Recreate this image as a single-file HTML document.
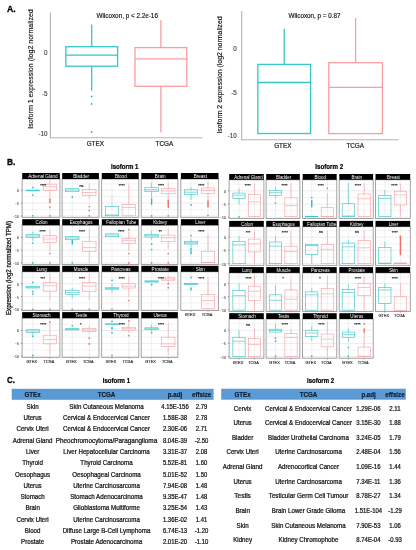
<!DOCTYPE html>
<html><head><meta charset="utf-8"><title>Figure</title>
<style>
html,body{margin:0;padding:0;background:#fff;}
svg{display:block;will-change:transform;}
text{font-family:"Liberation Sans", sans-serif;}
</style></head><body>
<svg width="416" height="550" viewBox="0 0 416 550">
<rect x="0" y="0" width="416" height="550" fill="#fff"/>
<text x="7" y="11.5" font-size="9.4" text-anchor="start" font-weight="bold" textLength="8.8" lengthAdjust="spacingAndGlyphs" stroke="#000" stroke-width="0.3">A.</text>
<line x1="50.4" y1="12.5" x2="50.4" y2="138.2" stroke="#b4b4b4" stroke-width="1.1"/>
<line x1="49.9" y1="137.7" x2="202.5" y2="137.7" stroke="#b4b4b4" stroke-width="1.1"/>
<text x="47.6" y="54.8" font-size="6.3" text-anchor="end" fill="#3a3a3a" stroke="#3a3a3a" stroke-width="0.12">0</text>
<text x="47.6" y="96.2" font-size="6.3" text-anchor="end" fill="#3a3a3a" stroke="#3a3a3a" stroke-width="0.12">-5</text>
<text x="47.6" y="136.2" font-size="6.3" text-anchor="end" fill="#3a3a3a" stroke="#3a3a3a" stroke-width="0.12">-10</text>
<text x="33.4" y="69" font-size="7" text-anchor="middle" fill="#111" textLength="119.5" lengthAdjust="spacingAndGlyphs" transform="rotate(-90 33.4 69)" stroke="#111" stroke-width="0.15">Isoform 1 expression (log2 normalized</text>
<text x="127.2" y="18" font-size="6.35" text-anchor="middle" fill="#111" textLength="61.5" lengthAdjust="spacingAndGlyphs" stroke="#111" stroke-width="0.15">Wilcoxon, p &lt; 2.2e-16</text>
<line x1="91.7" y1="24.4" x2="91.7" y2="46.7" stroke="#36c6c8" stroke-width="1.3"/>
<line x1="91.7" y1="66.2" x2="91.7" y2="90.8" stroke="#36c6c8" stroke-width="1.3"/>
<rect x="65.8" y="46.7" width="51.8" height="19.5" fill="none" stroke="#36c6c8" stroke-width="1.3"/>
<line x1="65.8" y1="55.1" x2="117.6" y2="55.1" stroke="#36c6c8" stroke-width="1.3"/>
<circle cx="91.6" cy="96.5" r="0.9" fill="#22c0c3"/>
<circle cx="91.6" cy="104" r="0.9" fill="#22c0c3"/>
<circle cx="91.6" cy="132" r="0.9" fill="#22c0c3"/>
<line x1="160.9" y1="20" x2="160.9" y2="47.6" stroke="#f99ea0" stroke-width="1.3"/>
<line x1="160.9" y1="86.3" x2="160.9" y2="132.4" stroke="#f99ea0" stroke-width="1.3"/>
<rect x="135" y="47.6" width="51.8" height="38.7" fill="none" stroke="#f99ea0" stroke-width="1.3"/>
<line x1="135" y1="58.8" x2="186.8" y2="58.8" stroke="#f99ea0" stroke-width="1.3"/>
<text x="95.3" y="145.8" font-size="6.4" text-anchor="middle" fill="#222" textLength="17.2" lengthAdjust="spacingAndGlyphs" stroke="#222" stroke-width="0.2">GTEX</text>
<text x="164.4" y="146.2" font-size="6.4" text-anchor="middle" fill="#222" textLength="17.6" lengthAdjust="spacingAndGlyphs" stroke="#222" stroke-width="0.2">TCGA</text>
<line x1="241.7" y1="10.9" x2="241.7" y2="140.2" stroke="#b4b4b4" stroke-width="1.1"/>
<line x1="241.2" y1="139.8" x2="398.5" y2="139.8" stroke="#b4b4b4" stroke-width="1.1"/>
<text x="236.8" y="50.5" font-size="6.3" text-anchor="end" fill="#3a3a3a" stroke="#3a3a3a" stroke-width="0.12">0</text>
<text x="236.8" y="94.7" font-size="6.3" text-anchor="end" fill="#3a3a3a" stroke="#3a3a3a" stroke-width="0.12">-5</text>
<text x="236.8" y="137.8" font-size="6.3" text-anchor="end" fill="#3a3a3a" stroke="#3a3a3a" stroke-width="0.12">-10</text>
<text x="221.6" y="75" font-size="7" text-anchor="middle" fill="#111" textLength="117.2" lengthAdjust="spacingAndGlyphs" transform="rotate(-90 221.6 75)" stroke="#111" stroke-width="0.15">Isoform 2 expression (log2 normalized</text>
<text x="314.5" y="18" font-size="6.35" text-anchor="middle" fill="#111" textLength="52" lengthAdjust="spacingAndGlyphs" stroke="#111" stroke-width="0.15">Wilcoxon, p = 0.87</text>
<line x1="284.2" y1="28.8" x2="284.2" y2="64.4" stroke="#36c6c8" stroke-width="1.3"/>
<rect x="257.8" y="64.4" width="52.8" height="69.1" fill="none" stroke="#36c6c8" stroke-width="1.3"/>
<line x1="257.8" y1="82.5" x2="310.6" y2="82.5" stroke="#36c6c8" stroke-width="1.3"/>
<line x1="355.6" y1="18" x2="355.6" y2="62.7" stroke="#f99ea0" stroke-width="1.3"/>
<rect x="328.8" y="62.7" width="53.6" height="70.9" fill="none" stroke="#f99ea0" stroke-width="1.3"/>
<line x1="328.8" y1="87.3" x2="382.4" y2="87.3" stroke="#f99ea0" stroke-width="1.3"/>
<text x="282.8" y="148" font-size="6.4" text-anchor="middle" fill="#222" textLength="17.2" lengthAdjust="spacingAndGlyphs" stroke="#222" stroke-width="0.2">GTEX</text>
<text x="355.2" y="148" font-size="6.4" text-anchor="middle" fill="#222" textLength="17.6" lengthAdjust="spacingAndGlyphs" stroke="#222" stroke-width="0.2">TCGA</text>
<text x="7" y="164.8" font-size="9.6" text-anchor="start" font-weight="bold" textLength="8.4" lengthAdjust="spacingAndGlyphs" stroke="#000" stroke-width="0.3">B.</text>
<text x="124.7" y="168.5" font-size="6.6" text-anchor="middle" font-weight="bold" textLength="27.4" lengthAdjust="spacingAndGlyphs" stroke="#000" stroke-width="0.22">Isoform 1</text>
<text x="329.2" y="169" font-size="6.6" text-anchor="middle" font-weight="bold" textLength="27.9" lengthAdjust="spacingAndGlyphs" stroke="#000" stroke-width="0.22">Isoform 2</text>
<text x="10.6" y="268" font-size="6.4" text-anchor="middle" fill="#111" textLength="94" lengthAdjust="spacingAndGlyphs" transform="rotate(-90 10.6 268)" stroke="#111" stroke-width="0.25">Expression (log2 normalized TPM)</text>
<line x1="22.2" y1="183.75" x2="59.8" y2="183.75" stroke="#e8e8e8" stroke-width="0.5"/>
<line x1="22.2" y1="196.65" x2="59.8" y2="196.65" stroke="#e8e8e8" stroke-width="0.5"/>
<line x1="22.2" y1="209.55" x2="59.8" y2="209.55" stroke="#e8e8e8" stroke-width="0.5"/>
<line x1="22.2" y1="190.2" x2="59.8" y2="190.2" stroke="#d9d9d9" stroke-width="0.5"/>
<line x1="22.2" y1="203.1" x2="59.8" y2="203.1" stroke="#d9d9d9" stroke-width="0.5"/>
<line x1="22.2" y1="216" x2="59.8" y2="216" stroke="#d9d9d9" stroke-width="0.5"/>
<line x1="32.8" y1="179" x2="32.8" y2="217.3" stroke="#e0e0e0" stroke-width="0.5"/>
<line x1="49.9" y1="179" x2="49.9" y2="217.3" stroke="#e0e0e0" stroke-width="0.5"/>
<rect x="26.1" y="190.1" width="13.4" height="0.8" fill="none" stroke="#36c6c8" stroke-width="0.62"/>
<line x1="26.1" y1="190.5" x2="39.5" y2="190.5" stroke="#36c6c8" stroke-width="0.62"/>
<circle cx="32.8" cy="187.5" r="0.85" fill="#22c0c3"/>
<circle cx="32.8" cy="195" r="0.85" fill="#22c0c3"/>
<circle cx="32.8" cy="215.8" r="0.85" fill="#22c0c3"/>
<line x1="49.9" y1="179.9" x2="49.9" y2="184.2" stroke="#f99ea0" stroke-width="0.62"/>
<line x1="49.9" y1="190.3" x2="49.9" y2="198.6" stroke="#f99ea0" stroke-width="0.62"/>
<rect x="43.2" y="184.2" width="13.4" height="6.1" fill="none" stroke="#f99ea0" stroke-width="0.62"/>
<line x1="43.2" y1="186.6" x2="56.6" y2="186.6" stroke="#f99ea0" stroke-width="0.62"/>
<rect x="49.2" y="198.6" width="1.4" height="4.6" rx="0.7" fill="#f26c64"/>
<circle cx="49.9" cy="207" r="0.85" fill="#f26c64"/>
<circle cx="49.9" cy="215.8" r="0.85" fill="#f26c64"/>
<text x="43.2" y="186.9" font-size="3.9" text-anchor="middle" fill="#333" stroke="#333" stroke-width="0.18">****</text>
<rect x="22.1" y="179" width="37.8" height="38.3" fill="none" stroke="#8c8c8c" stroke-width="0.8"/>
<rect x="22.2" y="173" width="37.6" height="6" fill="#000"/>
<text x="42.9" y="177.9" font-size="4.6" text-anchor="middle" fill="#fff">Adrenal Gland</text>
<line x1="20.9" y1="190.2" x2="22" y2="190.2" stroke="#333" stroke-width="0.5"/>
<text x="18.8" y="192.1" font-size="3.4" text-anchor="end" fill="#444" stroke="#444" stroke-width="0.08">0</text>
<line x1="20.9" y1="203.1" x2="22" y2="203.1" stroke="#333" stroke-width="0.5"/>
<text x="18.8" y="205" font-size="3.4" text-anchor="end" fill="#444" stroke="#444" stroke-width="0.08">−5</text>
<line x1="20.9" y1="216" x2="22" y2="216" stroke="#333" stroke-width="0.5"/>
<text x="18.8" y="217.9" font-size="3.4" text-anchor="end" fill="#444" stroke="#444" stroke-width="0.08">−10</text>
<line x1="62.2" y1="183.75" x2="98.9" y2="183.75" stroke="#e8e8e8" stroke-width="0.5"/>
<line x1="62.2" y1="196.65" x2="98.9" y2="196.65" stroke="#e8e8e8" stroke-width="0.5"/>
<line x1="62.2" y1="209.55" x2="98.9" y2="209.55" stroke="#e8e8e8" stroke-width="0.5"/>
<line x1="62.2" y1="190.2" x2="98.9" y2="190.2" stroke="#d9d9d9" stroke-width="0.5"/>
<line x1="62.2" y1="203.1" x2="98.9" y2="203.1" stroke="#d9d9d9" stroke-width="0.5"/>
<line x1="62.2" y1="216" x2="98.9" y2="216" stroke="#d9d9d9" stroke-width="0.5"/>
<line x1="72.3" y1="179" x2="72.3" y2="217.3" stroke="#e0e0e0" stroke-width="0.5"/>
<line x1="89.3" y1="179" x2="89.3" y2="217.3" stroke="#e0e0e0" stroke-width="0.5"/>
<rect x="65.6" y="188.7" width="13.4" height="3" fill="none" stroke="#36c6c8" stroke-width="0.62"/>
<line x1="65.6" y1="190" x2="79" y2="190" stroke="#36c6c8" stroke-width="0.62"/>
<circle cx="72.3" cy="197.2" r="0.85" fill="#22c0c3"/>
<line x1="89.3" y1="183.8" x2="89.3" y2="189.3" stroke="#f99ea0" stroke-width="0.62"/>
<line x1="89.3" y1="195.6" x2="89.3" y2="198.6" stroke="#f99ea0" stroke-width="0.62"/>
<rect x="82.6" y="189.3" width="13.4" height="6.3" fill="none" stroke="#f99ea0" stroke-width="0.62"/>
<line x1="82.6" y1="192.5" x2="96" y2="192.5" stroke="#f99ea0" stroke-width="0.62"/>
<circle cx="89.3" cy="206.5" r="0.85" fill="#f26c64"/>
<circle cx="89.3" cy="210.4" r="0.85" fill="#f26c64"/>
<circle cx="89.3" cy="215.8" r="0.85" fill="#f26c64"/>
<text x="81.5" y="186.9" font-size="3.8" text-anchor="middle" fill="#222" stroke="#222" stroke-width="0.2">ns</text>
<rect x="62.1" y="179" width="36.9" height="38.3" fill="none" stroke="#8c8c8c" stroke-width="0.8"/>
<rect x="62.2" y="173" width="36.7" height="6" fill="#000"/>
<text x="81.15" y="177.9" font-size="4.6" text-anchor="middle" fill="#fff">Bladder</text>
<line x1="101.8" y1="183.75" x2="138.7" y2="183.75" stroke="#e8e8e8" stroke-width="0.5"/>
<line x1="101.8" y1="196.65" x2="138.7" y2="196.65" stroke="#e8e8e8" stroke-width="0.5"/>
<line x1="101.8" y1="209.55" x2="138.7" y2="209.55" stroke="#e8e8e8" stroke-width="0.5"/>
<line x1="101.8" y1="190.2" x2="138.7" y2="190.2" stroke="#d9d9d9" stroke-width="0.5"/>
<line x1="101.8" y1="203.1" x2="138.7" y2="203.1" stroke="#d9d9d9" stroke-width="0.5"/>
<line x1="101.8" y1="216" x2="138.7" y2="216" stroke="#d9d9d9" stroke-width="0.5"/>
<line x1="112" y1="179" x2="112" y2="217.3" stroke="#e0e0e0" stroke-width="0.5"/>
<line x1="128.8" y1="179" x2="128.8" y2="217.3" stroke="#e0e0e0" stroke-width="0.5"/>
<line x1="112" y1="195" x2="112" y2="206.5" stroke="#36c6c8" stroke-width="0.62" stroke-opacity="0.45"/>
<rect x="105.3" y="206.5" width="13.4" height="9.3" fill="none" stroke="#36c6c8" stroke-width="0.62"/>
<line x1="105.3" y1="215" x2="118.7" y2="215" stroke="#36c6c8" stroke-width="0.62"/>
<line x1="128.8" y1="184.8" x2="128.8" y2="204.5" stroke="#f99ea0" stroke-width="0.62"/>
<rect x="122.1" y="204.5" width="13.4" height="11.3" fill="none" stroke="#f99ea0" stroke-width="0.62"/>
<line x1="122.1" y1="207.5" x2="135.5" y2="207.5" stroke="#f99ea0" stroke-width="0.62"/>
<text x="121.7" y="186.9" font-size="3.9" text-anchor="middle" fill="#333" stroke="#333" stroke-width="0.18">****</text>
<rect x="101.7" y="179" width="37.1" height="38.3" fill="none" stroke="#8c8c8c" stroke-width="0.8"/>
<rect x="101.8" y="173" width="36.9" height="6" fill="#000"/>
<text x="120.85" y="177.9" font-size="4.6" text-anchor="middle" fill="#fff">Blood</text>
<line x1="141.3" y1="183.75" x2="177.8" y2="183.75" stroke="#e8e8e8" stroke-width="0.5"/>
<line x1="141.3" y1="196.65" x2="177.8" y2="196.65" stroke="#e8e8e8" stroke-width="0.5"/>
<line x1="141.3" y1="209.55" x2="177.8" y2="209.55" stroke="#e8e8e8" stroke-width="0.5"/>
<line x1="141.3" y1="190.2" x2="177.8" y2="190.2" stroke="#d9d9d9" stroke-width="0.5"/>
<line x1="141.3" y1="203.1" x2="177.8" y2="203.1" stroke="#d9d9d9" stroke-width="0.5"/>
<line x1="141.3" y1="216" x2="177.8" y2="216" stroke="#d9d9d9" stroke-width="0.5"/>
<line x1="151.6" y1="179" x2="151.6" y2="217.3" stroke="#e0e0e0" stroke-width="0.5"/>
<line x1="168.25" y1="179" x2="168.25" y2="217.3" stroke="#e0e0e0" stroke-width="0.5"/>
<line x1="151.6" y1="182.8" x2="151.6" y2="187.4" stroke="#36c6c8" stroke-width="0.62"/>
<line x1="151.6" y1="191.7" x2="151.6" y2="197.6" stroke="#36c6c8" stroke-width="0.62"/>
<rect x="144.9" y="187.4" width="13.4" height="4.3" fill="none" stroke="#36c6c8" stroke-width="0.62"/>
<line x1="144.9" y1="189.7" x2="158.3" y2="189.7" stroke="#36c6c8" stroke-width="0.62"/>
<rect x="150.9" y="198" width="1.4" height="7" rx="0.7" fill="#22c0c3"/>
<circle cx="151.6" cy="215.8" r="0.85" fill="#22c0c3"/>
<line x1="168.25" y1="182.8" x2="168.25" y2="188.7" stroke="#f99ea0" stroke-width="0.62"/>
<line x1="168.25" y1="193.7" x2="168.25" y2="199.6" stroke="#f99ea0" stroke-width="0.62"/>
<rect x="161.55" y="188.7" width="13.4" height="5" fill="none" stroke="#f99ea0" stroke-width="0.62"/>
<line x1="161.55" y1="191" x2="174.95" y2="191" stroke="#f99ea0" stroke-width="0.62"/>
<rect x="167.55" y="199.6" width="1.4" height="8.4" rx="0.7" fill="#f26c64"/>
<circle cx="168.25" cy="215.8" r="0.85" fill="#f26c64"/>
<text x="161.1" y="186.9" font-size="3.9" text-anchor="middle" fill="#333" stroke="#333" stroke-width="0.18">****</text>
<rect x="141.2" y="179" width="36.7" height="38.3" fill="none" stroke="#8c8c8c" stroke-width="0.8"/>
<rect x="141.3" y="173" width="36.5" height="6" fill="#000"/>
<text x="160.15" y="177.9" font-size="4.6" text-anchor="middle" fill="#fff">Brain</text>
<line x1="180.9" y1="183.75" x2="218.5" y2="183.75" stroke="#e8e8e8" stroke-width="0.5"/>
<line x1="180.9" y1="196.65" x2="218.5" y2="196.65" stroke="#e8e8e8" stroke-width="0.5"/>
<line x1="180.9" y1="209.55" x2="218.5" y2="209.55" stroke="#e8e8e8" stroke-width="0.5"/>
<line x1="180.9" y1="190.2" x2="218.5" y2="190.2" stroke="#d9d9d9" stroke-width="0.5"/>
<line x1="180.9" y1="203.1" x2="218.5" y2="203.1" stroke="#d9d9d9" stroke-width="0.5"/>
<line x1="180.9" y1="216" x2="218.5" y2="216" stroke="#d9d9d9" stroke-width="0.5"/>
<line x1="191" y1="179" x2="191" y2="217.3" stroke="#e0e0e0" stroke-width="0.5"/>
<line x1="208" y1="179" x2="208" y2="217.3" stroke="#e0e0e0" stroke-width="0.5"/>
<line x1="191" y1="186.8" x2="191" y2="189.8" stroke="#36c6c8" stroke-width="0.62"/>
<line x1="191" y1="194.6" x2="191" y2="200" stroke="#36c6c8" stroke-width="0.62"/>
<rect x="184.3" y="189.8" width="13.4" height="4.8" fill="none" stroke="#36c6c8" stroke-width="0.62"/>
<line x1="184.3" y1="192.2" x2="197.7" y2="192.2" stroke="#36c6c8" stroke-width="0.62"/>
<circle cx="191" cy="204.9" r="0.85" fill="#22c0c3"/>
<line x1="208" y1="180.8" x2="208" y2="188" stroke="#f99ea0" stroke-width="0.62"/>
<line x1="208" y1="193.4" x2="208" y2="200" stroke="#f99ea0" stroke-width="0.62"/>
<rect x="201.3" y="188" width="13.4" height="5.4" fill="none" stroke="#f99ea0" stroke-width="0.62"/>
<line x1="201.3" y1="190.4" x2="214.7" y2="190.4" stroke="#f99ea0" stroke-width="0.62"/>
<rect x="207.3" y="200" width="1.4" height="7.6" rx="0.7" fill="#f26c64"/>
<circle cx="208" cy="215.4" r="0.85" fill="#f26c64"/>
<text x="201.2" y="186.9" font-size="3.9" text-anchor="middle" fill="#333" stroke="#333" stroke-width="0.18">****</text>
<rect x="180.8" y="179" width="37.8" height="38.3" fill="none" stroke="#8c8c8c" stroke-width="0.8"/>
<rect x="180.9" y="173" width="37.6" height="6" fill="#000"/>
<text x="200.3" y="177.9" font-size="4.6" text-anchor="middle" fill="#fff">Breast</text>
<line x1="22.2" y1="230.75" x2="59.8" y2="230.75" stroke="#e8e8e8" stroke-width="0.5"/>
<line x1="22.2" y1="243.65" x2="59.8" y2="243.65" stroke="#e8e8e8" stroke-width="0.5"/>
<line x1="22.2" y1="256.55" x2="59.8" y2="256.55" stroke="#e8e8e8" stroke-width="0.5"/>
<line x1="22.2" y1="237.2" x2="59.8" y2="237.2" stroke="#d9d9d9" stroke-width="0.5"/>
<line x1="22.2" y1="250.1" x2="59.8" y2="250.1" stroke="#d9d9d9" stroke-width="0.5"/>
<line x1="22.2" y1="263" x2="59.8" y2="263" stroke="#d9d9d9" stroke-width="0.5"/>
<line x1="32.8" y1="225.2" x2="32.8" y2="264.4" stroke="#e0e0e0" stroke-width="0.5"/>
<line x1="49.9" y1="225.2" x2="49.9" y2="264.4" stroke="#e0e0e0" stroke-width="0.5"/>
<line x1="32.8" y1="231.8" x2="32.8" y2="234.4" stroke="#36c6c8" stroke-width="0.62"/>
<line x1="32.8" y1="237.3" x2="32.8" y2="240.7" stroke="#36c6c8" stroke-width="0.62"/>
<rect x="26.1" y="234.4" width="13.4" height="2.9" fill="none" stroke="#36c6c8" stroke-width="0.62"/>
<line x1="26.1" y1="236" x2="39.5" y2="236" stroke="#36c6c8" stroke-width="0.62"/>
<circle cx="32.8" cy="243" r="0.85" fill="#22c0c3"/>
<circle cx="32.8" cy="262.8" r="0.85" fill="#22c0c3"/>
<line x1="49.9" y1="229.2" x2="49.9" y2="235.7" stroke="#f99ea0" stroke-width="0.62"/>
<line x1="49.9" y1="242.6" x2="49.9" y2="251.5" stroke="#f99ea0" stroke-width="0.62"/>
<rect x="43.2" y="235.7" width="13.4" height="6.9" fill="none" stroke="#f99ea0" stroke-width="0.62"/>
<line x1="43.2" y1="239" x2="56.6" y2="239" stroke="#f99ea0" stroke-width="0.62"/>
<circle cx="49.9" cy="253.5" r="0.85" fill="#f26c64"/>
<circle cx="49.9" cy="262.8" r="0.85" fill="#f26c64"/>
<text x="42.6" y="233.1" font-size="3.9" text-anchor="middle" fill="#333" stroke="#333" stroke-width="0.18">****</text>
<rect x="22.1" y="225.2" width="37.8" height="39.2" fill="none" stroke="#8c8c8c" stroke-width="0.8"/>
<rect x="22.2" y="219.2" width="37.6" height="6" fill="#000"/>
<text x="41.6" y="224.1" font-size="4.6" text-anchor="middle" fill="#fff">Colon</text>
<line x1="20.9" y1="237.2" x2="22" y2="237.2" stroke="#333" stroke-width="0.5"/>
<text x="18.8" y="239.1" font-size="3.4" text-anchor="end" fill="#444" stroke="#444" stroke-width="0.08">0</text>
<line x1="20.9" y1="250.1" x2="22" y2="250.1" stroke="#333" stroke-width="0.5"/>
<text x="18.8" y="252" font-size="3.4" text-anchor="end" fill="#444" stroke="#444" stroke-width="0.08">−5</text>
<line x1="20.9" y1="263" x2="22" y2="263" stroke="#333" stroke-width="0.5"/>
<text x="18.8" y="264.9" font-size="3.4" text-anchor="end" fill="#444" stroke="#444" stroke-width="0.08">−10</text>
<line x1="62.2" y1="230.75" x2="98.9" y2="230.75" stroke="#e8e8e8" stroke-width="0.5"/>
<line x1="62.2" y1="243.65" x2="98.9" y2="243.65" stroke="#e8e8e8" stroke-width="0.5"/>
<line x1="62.2" y1="256.55" x2="98.9" y2="256.55" stroke="#e8e8e8" stroke-width="0.5"/>
<line x1="62.2" y1="237.2" x2="98.9" y2="237.2" stroke="#d9d9d9" stroke-width="0.5"/>
<line x1="62.2" y1="250.1" x2="98.9" y2="250.1" stroke="#d9d9d9" stroke-width="0.5"/>
<line x1="62.2" y1="263" x2="98.9" y2="263" stroke="#d9d9d9" stroke-width="0.5"/>
<line x1="72.3" y1="225.2" x2="72.3" y2="264.4" stroke="#e0e0e0" stroke-width="0.5"/>
<line x1="89.3" y1="225.2" x2="89.3" y2="264.4" stroke="#e0e0e0" stroke-width="0.5"/>
<line x1="72.3" y1="239.7" x2="72.3" y2="242" stroke="#36c6c8" stroke-width="0.62"/>
<rect x="65.6" y="236.7" width="13.4" height="3" fill="none" stroke="#36c6c8" stroke-width="0.62"/>
<line x1="65.6" y1="238" x2="79" y2="238" stroke="#36c6c8" stroke-width="0.62"/>
<rect x="71.6" y="240" width="1.4" height="4.6" rx="0.7" fill="#22c0c3"/>
<circle cx="72.3" cy="262.8" r="0.85" fill="#22c0c3"/>
<line x1="89.3" y1="229.2" x2="89.3" y2="241.7" stroke="#f99ea0" stroke-width="0.62"/>
<line x1="89.3" y1="251.5" x2="89.3" y2="262.8" stroke="#f99ea0" stroke-width="0.62"/>
<rect x="82.6" y="241.7" width="13.4" height="9.8" fill="none" stroke="#f99ea0" stroke-width="0.62"/>
<line x1="82.6" y1="247.6" x2="96" y2="247.6" stroke="#f99ea0" stroke-width="0.62"/>
<text x="82.1" y="233.1" font-size="3.9" text-anchor="middle" fill="#333" stroke="#333" stroke-width="0.18">****</text>
<rect x="62.1" y="225.2" width="36.9" height="39.2" fill="none" stroke="#8c8c8c" stroke-width="0.8"/>
<rect x="62.2" y="219.2" width="36.7" height="6" fill="#000"/>
<text x="81.15" y="224.1" font-size="4.6" text-anchor="middle" fill="#fff">Esophagus</text>
<line x1="101.8" y1="230.75" x2="138.7" y2="230.75" stroke="#e8e8e8" stroke-width="0.5"/>
<line x1="101.8" y1="243.65" x2="138.7" y2="243.65" stroke="#e8e8e8" stroke-width="0.5"/>
<line x1="101.8" y1="256.55" x2="138.7" y2="256.55" stroke="#e8e8e8" stroke-width="0.5"/>
<line x1="101.8" y1="237.2" x2="138.7" y2="237.2" stroke="#d9d9d9" stroke-width="0.5"/>
<line x1="101.8" y1="250.1" x2="138.7" y2="250.1" stroke="#d9d9d9" stroke-width="0.5"/>
<line x1="101.8" y1="263" x2="138.7" y2="263" stroke="#d9d9d9" stroke-width="0.5"/>
<line x1="112" y1="225.2" x2="112" y2="264.4" stroke="#e0e0e0" stroke-width="0.5"/>
<line x1="128.8" y1="225.2" x2="128.8" y2="264.4" stroke="#e0e0e0" stroke-width="0.5"/>
<rect x="105.3" y="233.8" width="13.4" height="2.9" fill="none" stroke="#36c6c8" stroke-width="0.62"/>
<line x1="105.3" y1="235" x2="118.7" y2="235" stroke="#36c6c8" stroke-width="0.62"/>
<line x1="128.8" y1="231.8" x2="128.8" y2="238.3" stroke="#f99ea0" stroke-width="0.62"/>
<line x1="128.8" y1="243.6" x2="128.8" y2="250.5" stroke="#f99ea0" stroke-width="0.62"/>
<rect x="122.1" y="238.3" width="13.4" height="5.3" fill="none" stroke="#f99ea0" stroke-width="0.62"/>
<line x1="122.1" y1="240.7" x2="135.5" y2="240.7" stroke="#f99ea0" stroke-width="0.62"/>
<circle cx="128.8" cy="229.8" r="0.85" fill="#f26c64"/>
<circle cx="128.8" cy="253.5" r="0.85" fill="#f26c64"/>
<circle cx="128.8" cy="262.8" r="0.85" fill="#f26c64"/>
<text x="121.2" y="233.1" font-size="3.9" text-anchor="middle" fill="#333" stroke="#333" stroke-width="0.18">****</text>
<rect x="101.7" y="225.2" width="37.1" height="39.2" fill="none" stroke="#8c8c8c" stroke-width="0.8"/>
<rect x="101.8" y="219.2" width="36.9" height="6" fill="#000"/>
<text x="121.2" y="224.1" font-size="4.6" text-anchor="middle" fill="#fff">Fallopian Tube</text>
<line x1="141.3" y1="230.75" x2="177.8" y2="230.75" stroke="#e8e8e8" stroke-width="0.5"/>
<line x1="141.3" y1="243.65" x2="177.8" y2="243.65" stroke="#e8e8e8" stroke-width="0.5"/>
<line x1="141.3" y1="256.55" x2="177.8" y2="256.55" stroke="#e8e8e8" stroke-width="0.5"/>
<line x1="141.3" y1="237.2" x2="177.8" y2="237.2" stroke="#d9d9d9" stroke-width="0.5"/>
<line x1="141.3" y1="250.1" x2="177.8" y2="250.1" stroke="#d9d9d9" stroke-width="0.5"/>
<line x1="141.3" y1="263" x2="177.8" y2="263" stroke="#d9d9d9" stroke-width="0.5"/>
<line x1="151.6" y1="225.2" x2="151.6" y2="264.4" stroke="#e0e0e0" stroke-width="0.5"/>
<line x1="168.25" y1="225.2" x2="168.25" y2="264.4" stroke="#e0e0e0" stroke-width="0.5"/>
<line x1="151.6" y1="230.8" x2="151.6" y2="234.4" stroke="#36c6c8" stroke-width="0.62"/>
<line x1="151.6" y1="237.1" x2="151.6" y2="239.7" stroke="#36c6c8" stroke-width="0.62"/>
<rect x="144.9" y="234.4" width="13.4" height="2.7" fill="none" stroke="#36c6c8" stroke-width="0.62"/>
<line x1="144.9" y1="235.7" x2="158.3" y2="235.7" stroke="#36c6c8" stroke-width="0.62"/>
<circle cx="151.6" cy="244.2" r="0.85" fill="#22c0c3"/>
<circle cx="151.6" cy="249.5" r="0.85" fill="#22c0c3"/>
<circle cx="151.6" cy="262.8" r="0.85" fill="#22c0c3"/>
<line x1="168.25" y1="228.8" x2="168.25" y2="235.1" stroke="#f99ea0" stroke-width="0.62"/>
<line x1="168.25" y1="241.7" x2="168.25" y2="248.6" stroke="#f99ea0" stroke-width="0.62"/>
<rect x="161.55" y="235.1" width="13.4" height="6.6" fill="none" stroke="#f99ea0" stroke-width="0.62"/>
<line x1="161.55" y1="237.7" x2="174.95" y2="237.7" stroke="#f99ea0" stroke-width="0.62"/>
<circle cx="168.25" cy="253.5" r="0.85" fill="#f26c64"/>
<circle cx="168.25" cy="262.8" r="0.85" fill="#f26c64"/>
<text x="160.2" y="233.1" font-size="3.9" text-anchor="middle" fill="#333" stroke="#333" stroke-width="0.18">**</text>
<rect x="141.2" y="225.2" width="36.7" height="39.2" fill="none" stroke="#8c8c8c" stroke-width="0.8"/>
<rect x="141.3" y="219.2" width="36.5" height="6" fill="#000"/>
<text x="160.15" y="224.1" font-size="4.6" text-anchor="middle" fill="#fff">Kidney</text>
<line x1="180.9" y1="230.75" x2="218.5" y2="230.75" stroke="#e8e8e8" stroke-width="0.5"/>
<line x1="180.9" y1="243.65" x2="218.5" y2="243.65" stroke="#e8e8e8" stroke-width="0.5"/>
<line x1="180.9" y1="256.55" x2="218.5" y2="256.55" stroke="#e8e8e8" stroke-width="0.5"/>
<line x1="180.9" y1="237.2" x2="218.5" y2="237.2" stroke="#d9d9d9" stroke-width="0.5"/>
<line x1="180.9" y1="250.1" x2="218.5" y2="250.1" stroke="#d9d9d9" stroke-width="0.5"/>
<line x1="180.9" y1="263" x2="218.5" y2="263" stroke="#d9d9d9" stroke-width="0.5"/>
<line x1="191" y1="225.2" x2="191" y2="264.4" stroke="#e0e0e0" stroke-width="0.5"/>
<line x1="208" y1="225.2" x2="208" y2="264.4" stroke="#e0e0e0" stroke-width="0.5"/>
<line x1="191" y1="238.6" x2="191" y2="241.6" stroke="#36c6c8" stroke-width="0.62"/>
<line x1="191" y1="244" x2="191" y2="247.6" stroke="#36c6c8" stroke-width="0.62"/>
<rect x="184.3" y="241.6" width="13.4" height="2.4" fill="none" stroke="#36c6c8" stroke-width="0.62"/>
<line x1="184.3" y1="242.8" x2="197.7" y2="242.8" stroke="#36c6c8" stroke-width="0.62"/>
<circle cx="191" cy="235.6" r="0.85" fill="#22c0c3"/>
<circle cx="191" cy="248.5" r="0.85" fill="#22c0c3"/>
<circle cx="191" cy="250" r="0.85" fill="#22c0c3"/>
<circle cx="191" cy="251.9" r="0.85" fill="#22c0c3"/>
<circle cx="191" cy="253.3" r="0.85" fill="#22c0c3"/>
<line x1="208" y1="233.8" x2="208" y2="251.3" stroke="#f99ea0" stroke-width="0.62"/>
<rect x="201.3" y="251.3" width="13.4" height="11.4" fill="none" stroke="#f99ea0" stroke-width="0.62"/>
<line x1="201.3" y1="262.4" x2="214.7" y2="262.4" stroke="#f99ea0" stroke-width="0.62"/>
<text x="201.2" y="233.1" font-size="3.9" text-anchor="middle" fill="#333" stroke="#333" stroke-width="0.18">****</text>
<rect x="180.8" y="225.2" width="37.8" height="39.2" fill="none" stroke="#8c8c8c" stroke-width="0.8"/>
<rect x="180.9" y="219.2" width="37.6" height="6" fill="#000"/>
<text x="200.3" y="224.1" font-size="4.6" text-anchor="middle" fill="#fff">Liver</text>
<line x1="22.2" y1="277.25" x2="59.8" y2="277.25" stroke="#e8e8e8" stroke-width="0.5"/>
<line x1="22.2" y1="290.15" x2="59.8" y2="290.15" stroke="#e8e8e8" stroke-width="0.5"/>
<line x1="22.2" y1="303.05" x2="59.8" y2="303.05" stroke="#e8e8e8" stroke-width="0.5"/>
<line x1="22.2" y1="283.7" x2="59.8" y2="283.7" stroke="#d9d9d9" stroke-width="0.5"/>
<line x1="22.2" y1="296.6" x2="59.8" y2="296.6" stroke="#d9d9d9" stroke-width="0.5"/>
<line x1="22.2" y1="309.5" x2="59.8" y2="309.5" stroke="#d9d9d9" stroke-width="0.5"/>
<line x1="32.8" y1="271.8" x2="32.8" y2="310.5" stroke="#e0e0e0" stroke-width="0.5"/>
<line x1="49.9" y1="271.8" x2="49.9" y2="310.5" stroke="#e0e0e0" stroke-width="0.5"/>
<rect x="26.1" y="286.3" width="13.4" height="1.7" fill="none" stroke="#36c6c8" stroke-width="0.62"/>
<line x1="26.1" y1="287.2" x2="39.5" y2="287.2" stroke="#36c6c8" stroke-width="0.62"/>
<circle cx="32.8" cy="282.3" r="0.85" fill="#22c0c3"/>
<circle cx="32.8" cy="291.6" r="0.85" fill="#22c0c3"/>
<circle cx="32.8" cy="294" r="0.85" fill="#22c0c3"/>
<circle cx="32.8" cy="309.4" r="0.85" fill="#22c0c3"/>
<line x1="49.9" y1="273.9" x2="49.9" y2="282.7" stroke="#f99ea0" stroke-width="0.62"/>
<line x1="49.9" y1="291.2" x2="49.9" y2="300.5" stroke="#f99ea0" stroke-width="0.62"/>
<rect x="43.2" y="282.7" width="13.4" height="8.5" fill="none" stroke="#f99ea0" stroke-width="0.62"/>
<line x1="43.2" y1="285.7" x2="56.6" y2="285.7" stroke="#f99ea0" stroke-width="0.62"/>
<circle cx="49.9" cy="309.4" r="0.85" fill="#f26c64"/>
<text x="42.7" y="279.7" font-size="3.9" text-anchor="middle" fill="#333" stroke="#333" stroke-width="0.18">***</text>
<rect x="22.1" y="271.8" width="37.8" height="38.7" fill="none" stroke="#8c8c8c" stroke-width="0.8"/>
<rect x="22.2" y="265.8" width="37.6" height="6" fill="#000"/>
<text x="41.6" y="270.7" font-size="4.6" text-anchor="middle" fill="#fff">Lung</text>
<line x1="20.9" y1="283.7" x2="22" y2="283.7" stroke="#333" stroke-width="0.5"/>
<text x="18.8" y="285.6" font-size="3.4" text-anchor="end" fill="#444" stroke="#444" stroke-width="0.08">0</text>
<line x1="20.9" y1="296.6" x2="22" y2="296.6" stroke="#333" stroke-width="0.5"/>
<text x="18.8" y="298.5" font-size="3.4" text-anchor="end" fill="#444" stroke="#444" stroke-width="0.08">−5</text>
<line x1="20.9" y1="309.5" x2="22" y2="309.5" stroke="#333" stroke-width="0.5"/>
<text x="18.8" y="311.4" font-size="3.4" text-anchor="end" fill="#444" stroke="#444" stroke-width="0.08">−10</text>
<line x1="62.2" y1="277.25" x2="98.9" y2="277.25" stroke="#e8e8e8" stroke-width="0.5"/>
<line x1="62.2" y1="290.15" x2="98.9" y2="290.15" stroke="#e8e8e8" stroke-width="0.5"/>
<line x1="62.2" y1="303.05" x2="98.9" y2="303.05" stroke="#e8e8e8" stroke-width="0.5"/>
<line x1="62.2" y1="283.7" x2="98.9" y2="283.7" stroke="#d9d9d9" stroke-width="0.5"/>
<line x1="62.2" y1="296.6" x2="98.9" y2="296.6" stroke="#d9d9d9" stroke-width="0.5"/>
<line x1="62.2" y1="309.5" x2="98.9" y2="309.5" stroke="#d9d9d9" stroke-width="0.5"/>
<line x1="72.3" y1="271.8" x2="72.3" y2="310.5" stroke="#e0e0e0" stroke-width="0.5"/>
<line x1="89.3" y1="271.8" x2="89.3" y2="310.5" stroke="#e0e0e0" stroke-width="0.5"/>
<line x1="72.3" y1="287.7" x2="72.3" y2="290.2" stroke="#36c6c8" stroke-width="0.62"/>
<line x1="72.3" y1="294.6" x2="72.3" y2="298.5" stroke="#36c6c8" stroke-width="0.62"/>
<rect x="65.6" y="290.2" width="13.4" height="4.4" fill="none" stroke="#36c6c8" stroke-width="0.62"/>
<line x1="65.6" y1="292.4" x2="79" y2="292.4" stroke="#36c6c8" stroke-width="0.62"/>
<circle cx="72.3" cy="309.4" r="0.85" fill="#22c0c3"/>
<line x1="89.3" y1="273.9" x2="89.3" y2="282.7" stroke="#f99ea0" stroke-width="0.62"/>
<line x1="89.3" y1="291.6" x2="89.3" y2="300.5" stroke="#f99ea0" stroke-width="0.62"/>
<rect x="82.6" y="282.7" width="13.4" height="8.9" fill="none" stroke="#f99ea0" stroke-width="0.62"/>
<line x1="82.6" y1="286.1" x2="96" y2="286.1" stroke="#f99ea0" stroke-width="0.62"/>
<circle cx="89.3" cy="309.4" r="0.85" fill="#f26c64"/>
<text x="82.1" y="279.7" font-size="3.9" text-anchor="middle" fill="#333" stroke="#333" stroke-width="0.18">****</text>
<rect x="62.1" y="271.8" width="36.9" height="38.7" fill="none" stroke="#8c8c8c" stroke-width="0.8"/>
<rect x="62.2" y="265.8" width="36.7" height="6" fill="#000"/>
<text x="81.15" y="270.7" font-size="4.6" text-anchor="middle" fill="#fff">Muscle</text>
<line x1="101.8" y1="277.25" x2="138.7" y2="277.25" stroke="#e8e8e8" stroke-width="0.5"/>
<line x1="101.8" y1="290.15" x2="138.7" y2="290.15" stroke="#e8e8e8" stroke-width="0.5"/>
<line x1="101.8" y1="303.05" x2="138.7" y2="303.05" stroke="#e8e8e8" stroke-width="0.5"/>
<line x1="101.8" y1="283.7" x2="138.7" y2="283.7" stroke="#d9d9d9" stroke-width="0.5"/>
<line x1="101.8" y1="296.6" x2="138.7" y2="296.6" stroke="#d9d9d9" stroke-width="0.5"/>
<line x1="101.8" y1="309.5" x2="138.7" y2="309.5" stroke="#d9d9d9" stroke-width="0.5"/>
<line x1="112" y1="271.8" x2="112" y2="310.5" stroke="#e0e0e0" stroke-width="0.5"/>
<line x1="128.8" y1="271.8" x2="128.8" y2="310.5" stroke="#e0e0e0" stroke-width="0.5"/>
<line x1="112" y1="283.7" x2="112" y2="287.7" stroke="#36c6c8" stroke-width="0.62"/>
<line x1="112" y1="289.2" x2="112" y2="292.6" stroke="#36c6c8" stroke-width="0.62"/>
<rect x="105.3" y="287.7" width="13.4" height="1.5" fill="none" stroke="#36c6c8" stroke-width="0.62"/>
<line x1="105.3" y1="288.5" x2="118.7" y2="288.5" stroke="#36c6c8" stroke-width="0.62"/>
<circle cx="112" cy="280.4" r="0.85" fill="#22c0c3"/>
<circle cx="112" cy="309" r="0.85" fill="#22c0c3"/>
<line x1="128.8" y1="276.2" x2="128.8" y2="283.7" stroke="#f99ea0" stroke-width="0.62"/>
<line x1="128.8" y1="288" x2="128.8" y2="296.5" stroke="#f99ea0" stroke-width="0.62"/>
<rect x="122.1" y="283.7" width="13.4" height="4.3" fill="none" stroke="#f99ea0" stroke-width="0.62"/>
<line x1="122.1" y1="286.1" x2="135.5" y2="286.1" stroke="#f99ea0" stroke-width="0.62"/>
<circle cx="128.8" cy="300.5" r="0.85" fill="#f26c64"/>
<text x="121.7" y="279.7" font-size="3.9" text-anchor="middle" fill="#333" stroke="#333" stroke-width="0.18">****</text>
<rect x="101.7" y="271.8" width="37.1" height="38.7" fill="none" stroke="#8c8c8c" stroke-width="0.8"/>
<rect x="101.8" y="265.8" width="36.9" height="6" fill="#000"/>
<text x="120.85" y="270.7" font-size="4.6" text-anchor="middle" fill="#fff">Pancreas</text>
<line x1="141.3" y1="277.25" x2="177.8" y2="277.25" stroke="#e8e8e8" stroke-width="0.5"/>
<line x1="141.3" y1="290.15" x2="177.8" y2="290.15" stroke="#e8e8e8" stroke-width="0.5"/>
<line x1="141.3" y1="303.05" x2="177.8" y2="303.05" stroke="#e8e8e8" stroke-width="0.5"/>
<line x1="141.3" y1="283.7" x2="177.8" y2="283.7" stroke="#d9d9d9" stroke-width="0.5"/>
<line x1="141.3" y1="296.6" x2="177.8" y2="296.6" stroke="#d9d9d9" stroke-width="0.5"/>
<line x1="141.3" y1="309.5" x2="177.8" y2="309.5" stroke="#d9d9d9" stroke-width="0.5"/>
<line x1="151.6" y1="271.8" x2="151.6" y2="310.5" stroke="#e0e0e0" stroke-width="0.5"/>
<line x1="168.25" y1="271.8" x2="168.25" y2="310.5" stroke="#e0e0e0" stroke-width="0.5"/>
<rect x="144.9" y="280.8" width="13.4" height="1.3" fill="none" stroke="#36c6c8" stroke-width="0.62"/>
<line x1="144.9" y1="281.5" x2="158.3" y2="281.5" stroke="#36c6c8" stroke-width="0.62"/>
<circle cx="151.6" cy="284.7" r="0.85" fill="#22c0c3"/>
<line x1="168.25" y1="275.4" x2="168.25" y2="277.8" stroke="#f99ea0" stroke-width="0.62"/>
<line x1="168.25" y1="280.2" x2="168.25" y2="282.7" stroke="#f99ea0" stroke-width="0.62"/>
<rect x="161.55" y="277.8" width="13.4" height="2.4" fill="none" stroke="#f99ea0" stroke-width="0.62"/>
<line x1="161.55" y1="279" x2="174.95" y2="279" stroke="#f99ea0" stroke-width="0.62"/>
<circle cx="168.25" cy="283.7" r="0.85" fill="#f26c64"/>
<circle cx="168.25" cy="287.7" r="0.85" fill="#f26c64"/>
<text x="161.1" y="279.7" font-size="3.9" text-anchor="middle" fill="#333" stroke="#333" stroke-width="0.18">****</text>
<rect x="141.2" y="271.8" width="36.7" height="38.7" fill="none" stroke="#8c8c8c" stroke-width="0.8"/>
<rect x="141.3" y="265.8" width="36.5" height="6" fill="#000"/>
<text x="160.15" y="270.7" font-size="4.6" text-anchor="middle" fill="#fff">Prostate</text>
<line x1="180.9" y1="277.25" x2="218.5" y2="277.25" stroke="#e8e8e8" stroke-width="0.5"/>
<line x1="180.9" y1="290.15" x2="218.5" y2="290.15" stroke="#e8e8e8" stroke-width="0.5"/>
<line x1="180.9" y1="303.05" x2="218.5" y2="303.05" stroke="#e8e8e8" stroke-width="0.5"/>
<line x1="180.9" y1="283.7" x2="218.5" y2="283.7" stroke="#d9d9d9" stroke-width="0.5"/>
<line x1="180.9" y1="296.6" x2="218.5" y2="296.6" stroke="#d9d9d9" stroke-width="0.5"/>
<line x1="180.9" y1="309.5" x2="218.5" y2="309.5" stroke="#d9d9d9" stroke-width="0.5"/>
<line x1="191" y1="271.8" x2="191" y2="310.5" stroke="#e0e0e0" stroke-width="0.5"/>
<line x1="208" y1="271.8" x2="208" y2="310.5" stroke="#e0e0e0" stroke-width="0.5"/>
<rect x="184.3" y="283.6" width="13.4" height="0.8" fill="none" stroke="#36c6c8" stroke-width="0.62"/>
<line x1="184.3" y1="284" x2="197.7" y2="284" stroke="#36c6c8" stroke-width="0.62"/>
<circle cx="191" cy="277.4" r="0.85" fill="#22c0c3"/>
<rect x="190.3" y="287.2" width="1.4" height="3.4" rx="0.7" fill="#22c0c3"/>
<line x1="208" y1="277" x2="208" y2="294.5" stroke="#f99ea0" stroke-width="0.62"/>
<rect x="201.3" y="294.5" width="13.4" height="14.1" fill="none" stroke="#f99ea0" stroke-width="0.62"/>
<line x1="201.3" y1="300.5" x2="214.7" y2="300.5" stroke="#f99ea0" stroke-width="0.62"/>
<text x="201.2" y="279.7" font-size="3.9" text-anchor="middle" fill="#333" stroke="#333" stroke-width="0.18">****</text>
<rect x="180.8" y="271.8" width="37.8" height="38.7" fill="none" stroke="#8c8c8c" stroke-width="0.8"/>
<rect x="180.9" y="265.8" width="37.6" height="6" fill="#000"/>
<text x="200.3" y="270.7" font-size="4.6" text-anchor="middle" fill="#fff">Skin</text>
<line x1="191" y1="310.8" x2="191" y2="311.7" stroke="#333" stroke-width="0.5"/>
<text x="190" y="315.9" font-size="3.9" text-anchor="middle" fill="#2a2a2a" textLength="10.6" lengthAdjust="spacingAndGlyphs" stroke="#2a2a2a" stroke-width="0.14">GTEX</text>
<line x1="208" y1="310.8" x2="208" y2="311.7" stroke="#333" stroke-width="0.5"/>
<text x="207" y="315.9" font-size="3.9" text-anchor="middle" fill="#2a2a2a" textLength="10.6" lengthAdjust="spacingAndGlyphs" stroke="#2a2a2a" stroke-width="0.14">TCGA</text>
<line x1="22.2" y1="324.05" x2="59.8" y2="324.05" stroke="#e8e8e8" stroke-width="0.5"/>
<line x1="22.2" y1="336.95" x2="59.8" y2="336.95" stroke="#e8e8e8" stroke-width="0.5"/>
<line x1="22.2" y1="349.85" x2="59.8" y2="349.85" stroke="#e8e8e8" stroke-width="0.5"/>
<line x1="22.2" y1="330.5" x2="59.8" y2="330.5" stroke="#d9d9d9" stroke-width="0.5"/>
<line x1="22.2" y1="343.4" x2="59.8" y2="343.4" stroke="#d9d9d9" stroke-width="0.5"/>
<line x1="22.2" y1="356.3" x2="59.8" y2="356.3" stroke="#d9d9d9" stroke-width="0.5"/>
<line x1="32.8" y1="318.1" x2="32.8" y2="357.3" stroke="#e0e0e0" stroke-width="0.5"/>
<line x1="49.9" y1="318.1" x2="49.9" y2="357.3" stroke="#e0e0e0" stroke-width="0.5"/>
<line x1="32.8" y1="332.3" x2="32.8" y2="334.7" stroke="#36c6c8" stroke-width="0.62"/>
<rect x="26.1" y="329.7" width="13.4" height="2.6" fill="none" stroke="#36c6c8" stroke-width="0.62"/>
<line x1="26.1" y1="331" x2="39.5" y2="331" stroke="#36c6c8" stroke-width="0.62"/>
<circle cx="32.8" cy="336.2" r="0.85" fill="#22c0c3"/>
<circle cx="32.8" cy="355.4" r="0.85" fill="#22c0c3"/>
<line x1="49.9" y1="322.8" x2="49.9" y2="335.2" stroke="#f99ea0" stroke-width="0.62"/>
<line x1="49.9" y1="343.9" x2="49.9" y2="354.4" stroke="#f99ea0" stroke-width="0.62"/>
<rect x="43.2" y="335.2" width="13.4" height="8.7" fill="none" stroke="#f99ea0" stroke-width="0.62"/>
<line x1="43.2" y1="339.6" x2="56.6" y2="339.6" stroke="#f99ea0" stroke-width="0.62"/>
<circle cx="49.9" cy="321.8" r="0.85" fill="#f26c64"/>
<text x="43.2" y="326" font-size="3.9" text-anchor="middle" fill="#333" stroke="#333" stroke-width="0.18">****</text>
<rect x="22.1" y="318.1" width="37.8" height="39.2" fill="none" stroke="#8c8c8c" stroke-width="0.8"/>
<rect x="22.2" y="312.1" width="37.6" height="6" fill="#000"/>
<text x="41.6" y="317" font-size="4.6" text-anchor="middle" fill="#fff">Stomach</text>
<line x1="20.9" y1="330.5" x2="22" y2="330.5" stroke="#333" stroke-width="0.5"/>
<text x="18.8" y="332.4" font-size="3.4" text-anchor="end" fill="#444" stroke="#444" stroke-width="0.08">0</text>
<line x1="20.9" y1="343.4" x2="22" y2="343.4" stroke="#333" stroke-width="0.5"/>
<text x="18.8" y="345.3" font-size="3.4" text-anchor="end" fill="#444" stroke="#444" stroke-width="0.08">−5</text>
<line x1="20.9" y1="356.3" x2="22" y2="356.3" stroke="#333" stroke-width="0.5"/>
<text x="18.8" y="358.2" font-size="3.4" text-anchor="end" fill="#444" stroke="#444" stroke-width="0.08">−10</text>
<line x1="32.8" y1="357.6" x2="32.8" y2="358.5" stroke="#333" stroke-width="0.5"/>
<text x="31.8" y="362.7" font-size="3.9" text-anchor="middle" fill="#2a2a2a" textLength="10.6" lengthAdjust="spacingAndGlyphs" stroke="#2a2a2a" stroke-width="0.14">GTEX</text>
<line x1="49.9" y1="357.6" x2="49.9" y2="358.5" stroke="#333" stroke-width="0.5"/>
<text x="48.9" y="362.7" font-size="3.9" text-anchor="middle" fill="#2a2a2a" textLength="10.6" lengthAdjust="spacingAndGlyphs" stroke="#2a2a2a" stroke-width="0.14">TCGA</text>
<line x1="62.2" y1="324.05" x2="98.9" y2="324.05" stroke="#e8e8e8" stroke-width="0.5"/>
<line x1="62.2" y1="336.95" x2="98.9" y2="336.95" stroke="#e8e8e8" stroke-width="0.5"/>
<line x1="62.2" y1="349.85" x2="98.9" y2="349.85" stroke="#e8e8e8" stroke-width="0.5"/>
<line x1="62.2" y1="330.5" x2="98.9" y2="330.5" stroke="#d9d9d9" stroke-width="0.5"/>
<line x1="62.2" y1="343.4" x2="98.9" y2="343.4" stroke="#d9d9d9" stroke-width="0.5"/>
<line x1="62.2" y1="356.3" x2="98.9" y2="356.3" stroke="#d9d9d9" stroke-width="0.5"/>
<line x1="72.3" y1="318.1" x2="72.3" y2="357.3" stroke="#e0e0e0" stroke-width="0.5"/>
<line x1="89.3" y1="318.1" x2="89.3" y2="357.3" stroke="#e0e0e0" stroke-width="0.5"/>
<rect x="65.6" y="328.7" width="13.4" height="1.2" fill="none" stroke="#36c6c8" stroke-width="0.62"/>
<line x1="65.6" y1="329.3" x2="79" y2="329.3" stroke="#36c6c8" stroke-width="0.62"/>
<circle cx="72.3" cy="325.8" r="0.85" fill="#22c0c3"/>
<line x1="89.3" y1="325.8" x2="89.3" y2="328.3" stroke="#f99ea0" stroke-width="0.62"/>
<line x1="89.3" y1="331.3" x2="89.3" y2="333.7" stroke="#f99ea0" stroke-width="0.62"/>
<rect x="82.6" y="328.3" width="13.4" height="3" fill="none" stroke="#f99ea0" stroke-width="0.62"/>
<line x1="82.6" y1="329.8" x2="96" y2="329.8" stroke="#f99ea0" stroke-width="0.62"/>
<circle cx="89.3" cy="338.2" r="0.85" fill="#f26c64"/>
<circle cx="89.3" cy="343.9" r="0.85" fill="#f26c64"/>
<text x="80.7" y="326" font-size="3.9" text-anchor="middle" fill="#333" stroke="#333" stroke-width="0.18">*</text>
<rect x="62.1" y="318.1" width="36.9" height="39.2" fill="none" stroke="#8c8c8c" stroke-width="0.8"/>
<rect x="62.2" y="312.1" width="36.7" height="6" fill="#000"/>
<text x="81.15" y="317" font-size="4.6" text-anchor="middle" fill="#fff">Testis</text>
<line x1="72.3" y1="357.6" x2="72.3" y2="358.5" stroke="#333" stroke-width="0.5"/>
<text x="71.3" y="362.7" font-size="3.9" text-anchor="middle" fill="#2a2a2a" textLength="10.6" lengthAdjust="spacingAndGlyphs" stroke="#2a2a2a" stroke-width="0.14">GTEX</text>
<line x1="89.3" y1="357.6" x2="89.3" y2="358.5" stroke="#333" stroke-width="0.5"/>
<text x="88.3" y="362.7" font-size="3.9" text-anchor="middle" fill="#2a2a2a" textLength="10.6" lengthAdjust="spacingAndGlyphs" stroke="#2a2a2a" stroke-width="0.14">TCGA</text>
<line x1="101.8" y1="324.05" x2="138.7" y2="324.05" stroke="#e8e8e8" stroke-width="0.5"/>
<line x1="101.8" y1="336.95" x2="138.7" y2="336.95" stroke="#e8e8e8" stroke-width="0.5"/>
<line x1="101.8" y1="349.85" x2="138.7" y2="349.85" stroke="#e8e8e8" stroke-width="0.5"/>
<line x1="101.8" y1="330.5" x2="138.7" y2="330.5" stroke="#d9d9d9" stroke-width="0.5"/>
<line x1="101.8" y1="343.4" x2="138.7" y2="343.4" stroke="#d9d9d9" stroke-width="0.5"/>
<line x1="101.8" y1="356.3" x2="138.7" y2="356.3" stroke="#d9d9d9" stroke-width="0.5"/>
<line x1="112" y1="318.1" x2="112" y2="357.3" stroke="#e0e0e0" stroke-width="0.5"/>
<line x1="128.8" y1="318.1" x2="128.8" y2="357.3" stroke="#e0e0e0" stroke-width="0.5"/>
<rect x="105.3" y="323.9" width="13.4" height="0.6" fill="none" stroke="#36c6c8" stroke-width="0.62"/>
<line x1="105.3" y1="324.2" x2="118.7" y2="324.2" stroke="#36c6c8" stroke-width="0.62"/>
<circle cx="112" cy="321.4" r="0.85" fill="#22c0c3"/>
<rect x="111.3" y="326.8" width="1.4" height="2.9" rx="0.7" fill="#22c0c3"/>
<circle cx="112" cy="332.7" r="0.85" fill="#22c0c3"/>
<circle cx="112" cy="355.4" r="0.85" fill="#22c0c3"/>
<line x1="128.8" y1="322.2" x2="128.8" y2="327.4" stroke="#f99ea0" stroke-width="0.62"/>
<line x1="128.8" y1="330.1" x2="128.8" y2="332.7" stroke="#f99ea0" stroke-width="0.62"/>
<rect x="122.1" y="327.4" width="13.4" height="2.7" fill="none" stroke="#f99ea0" stroke-width="0.62"/>
<line x1="122.1" y1="328.7" x2="135.5" y2="328.7" stroke="#f99ea0" stroke-width="0.62"/>
<circle cx="128.8" cy="320.8" r="0.85" fill="#f26c64"/>
<circle cx="128.8" cy="335.6" r="0.85" fill="#f26c64"/>
<text x="121.7" y="326" font-size="3.9" text-anchor="middle" fill="#333" stroke="#333" stroke-width="0.18">****</text>
<rect x="101.7" y="318.1" width="37.1" height="39.2" fill="none" stroke="#8c8c8c" stroke-width="0.8"/>
<rect x="101.8" y="312.1" width="36.9" height="6" fill="#000"/>
<text x="120.85" y="317" font-size="4.6" text-anchor="middle" fill="#fff">Thyroid</text>
<line x1="112" y1="357.6" x2="112" y2="358.5" stroke="#333" stroke-width="0.5"/>
<text x="111" y="362.7" font-size="3.9" text-anchor="middle" fill="#2a2a2a" textLength="10.6" lengthAdjust="spacingAndGlyphs" stroke="#2a2a2a" stroke-width="0.14">GTEX</text>
<line x1="128.8" y1="357.6" x2="128.8" y2="358.5" stroke="#333" stroke-width="0.5"/>
<text x="127.8" y="362.7" font-size="3.9" text-anchor="middle" fill="#2a2a2a" textLength="10.6" lengthAdjust="spacingAndGlyphs" stroke="#2a2a2a" stroke-width="0.14">TCGA</text>
<line x1="141.3" y1="324.05" x2="177.8" y2="324.05" stroke="#e8e8e8" stroke-width="0.5"/>
<line x1="141.3" y1="336.95" x2="177.8" y2="336.95" stroke="#e8e8e8" stroke-width="0.5"/>
<line x1="141.3" y1="349.85" x2="177.8" y2="349.85" stroke="#e8e8e8" stroke-width="0.5"/>
<line x1="141.3" y1="330.5" x2="177.8" y2="330.5" stroke="#d9d9d9" stroke-width="0.5"/>
<line x1="141.3" y1="343.4" x2="177.8" y2="343.4" stroke="#d9d9d9" stroke-width="0.5"/>
<line x1="141.3" y1="356.3" x2="177.8" y2="356.3" stroke="#d9d9d9" stroke-width="0.5"/>
<line x1="151.6" y1="318.1" x2="151.6" y2="357.3" stroke="#e0e0e0" stroke-width="0.5"/>
<line x1="168.25" y1="318.1" x2="168.25" y2="357.3" stroke="#e0e0e0" stroke-width="0.5"/>
<line x1="151.6" y1="324.8" x2="151.6" y2="327.8" stroke="#36c6c8" stroke-width="0.62"/>
<line x1="151.6" y1="329.7" x2="151.6" y2="331.3" stroke="#36c6c8" stroke-width="0.62"/>
<rect x="144.9" y="327.8" width="13.4" height="1.9" fill="none" stroke="#36c6c8" stroke-width="0.62"/>
<line x1="144.9" y1="328.7" x2="158.3" y2="328.7" stroke="#36c6c8" stroke-width="0.62"/>
<circle cx="151.6" cy="332.7" r="0.85" fill="#22c0c3"/>
<line x1="168.25" y1="322.8" x2="168.25" y2="337.2" stroke="#f99ea0" stroke-width="0.62"/>
<line x1="168.25" y1="346.5" x2="168.25" y2="355" stroke="#f99ea0" stroke-width="0.62"/>
<rect x="161.55" y="337.2" width="13.4" height="9.3" fill="none" stroke="#f99ea0" stroke-width="0.62"/>
<line x1="161.55" y1="343.9" x2="174.95" y2="343.9" stroke="#f99ea0" stroke-width="0.62"/>
<text x="161.1" y="326" font-size="3.9" text-anchor="middle" fill="#333" stroke="#333" stroke-width="0.18">****</text>
<rect x="141.2" y="318.1" width="36.7" height="39.2" fill="none" stroke="#8c8c8c" stroke-width="0.8"/>
<rect x="141.3" y="312.1" width="36.5" height="6" fill="#000"/>
<text x="160.15" y="317" font-size="4.6" text-anchor="middle" fill="#fff">Uterus</text>
<line x1="151.6" y1="357.6" x2="151.6" y2="358.5" stroke="#333" stroke-width="0.5"/>
<text x="150.6" y="362.7" font-size="3.9" text-anchor="middle" fill="#2a2a2a" textLength="10.6" lengthAdjust="spacingAndGlyphs" stroke="#2a2a2a" stroke-width="0.14">GTEX</text>
<line x1="168.25" y1="357.6" x2="168.25" y2="358.5" stroke="#333" stroke-width="0.5"/>
<text x="167.25" y="362.7" font-size="3.9" text-anchor="middle" fill="#2a2a2a" textLength="10.6" lengthAdjust="spacingAndGlyphs" stroke="#2a2a2a" stroke-width="0.14">TCGA</text>
<line x1="229.2" y1="184.2" x2="263.8" y2="184.2" stroke="#e8e8e8" stroke-width="0.5"/>
<line x1="229.2" y1="197.4" x2="263.8" y2="197.4" stroke="#e8e8e8" stroke-width="0.5"/>
<line x1="229.2" y1="210.6" x2="263.8" y2="210.6" stroke="#e8e8e8" stroke-width="0.5"/>
<line x1="229.2" y1="190.8" x2="263.8" y2="190.8" stroke="#d9d9d9" stroke-width="0.5"/>
<line x1="229.2" y1="204" x2="263.8" y2="204" stroke="#d9d9d9" stroke-width="0.5"/>
<line x1="229.2" y1="217.2" x2="263.8" y2="217.2" stroke="#d9d9d9" stroke-width="0.5"/>
<line x1="239" y1="179.8" x2="239" y2="218.5" stroke="#e0e0e0" stroke-width="0.5"/>
<line x1="254.5" y1="179.8" x2="254.5" y2="218.5" stroke="#e0e0e0" stroke-width="0.5"/>
<line x1="239" y1="188.6" x2="239" y2="193.1" stroke="#36c6c8" stroke-width="0.62"/>
<line x1="239" y1="198.5" x2="239" y2="204.3" stroke="#36c6c8" stroke-width="0.62"/>
<rect x="232.85" y="193.1" width="12.3" height="5.4" fill="none" stroke="#36c6c8" stroke-width="0.62"/>
<line x1="232.85" y1="195.2" x2="245.15" y2="195.2" stroke="#36c6c8" stroke-width="0.62"/>
<circle cx="239" cy="216.9" r="0.85" fill="#22c0c3"/>
<line x1="254.5" y1="183.8" x2="254.5" y2="194.4" stroke="#f99ea0" stroke-width="0.62"/>
<rect x="248.35" y="194.4" width="12.3" height="21.9" fill="none" stroke="#f99ea0" stroke-width="0.62"/>
<line x1="248.35" y1="201.9" x2="260.65" y2="201.9" stroke="#f99ea0" stroke-width="0.62"/>
<text x="247.8" y="186.8" font-size="3.9" text-anchor="middle" fill="#333" stroke="#333" stroke-width="0.18">****</text>
<rect x="229.1" y="179.8" width="34.8" height="38.7" fill="none" stroke="#8c8c8c" stroke-width="0.8"/>
<rect x="229.2" y="174" width="34.6" height="5.8" fill="#000"/>
<text x="248.5" y="179" font-size="4.45" text-anchor="middle" fill="#fff">Adrenal Gland</text>
<line x1="227.9" y1="190.8" x2="229" y2="190.8" stroke="#333" stroke-width="0.5"/>
<text x="225.8" y="192.7" font-size="3.4" text-anchor="end" fill="#444" stroke="#444" stroke-width="0.08">0</text>
<line x1="227.9" y1="204" x2="229" y2="204" stroke="#333" stroke-width="0.5"/>
<text x="225.8" y="205.9" font-size="3.4" text-anchor="end" fill="#444" stroke="#444" stroke-width="0.08">−5</text>
<line x1="227.9" y1="217.2" x2="229" y2="217.2" stroke="#333" stroke-width="0.5"/>
<text x="225.8" y="219.1" font-size="3.4" text-anchor="end" fill="#444" stroke="#444" stroke-width="0.08">−10</text>
<line x1="266.2" y1="184.2" x2="299.8" y2="184.2" stroke="#e8e8e8" stroke-width="0.5"/>
<line x1="266.2" y1="197.4" x2="299.8" y2="197.4" stroke="#e8e8e8" stroke-width="0.5"/>
<line x1="266.2" y1="210.6" x2="299.8" y2="210.6" stroke="#e8e8e8" stroke-width="0.5"/>
<line x1="266.2" y1="190.8" x2="299.8" y2="190.8" stroke="#d9d9d9" stroke-width="0.5"/>
<line x1="266.2" y1="204" x2="299.8" y2="204" stroke="#d9d9d9" stroke-width="0.5"/>
<line x1="266.2" y1="217.2" x2="299.8" y2="217.2" stroke="#d9d9d9" stroke-width="0.5"/>
<line x1="275.5" y1="179.8" x2="275.5" y2="218.5" stroke="#e0e0e0" stroke-width="0.5"/>
<line x1="291" y1="179.8" x2="291" y2="218.5" stroke="#e0e0e0" stroke-width="0.5"/>
<line x1="275.5" y1="187.3" x2="275.5" y2="190.6" stroke="#36c6c8" stroke-width="0.62"/>
<line x1="275.5" y1="195.4" x2="275.5" y2="198.8" stroke="#36c6c8" stroke-width="0.62"/>
<rect x="269.35" y="190.6" width="12.3" height="4.8" fill="none" stroke="#36c6c8" stroke-width="0.62"/>
<line x1="269.35" y1="192.7" x2="281.65" y2="192.7" stroke="#36c6c8" stroke-width="0.62"/>
<circle cx="275.5" cy="203" r="0.85" fill="#22c0c3"/>
<line x1="291" y1="183.5" x2="291" y2="197.9" stroke="#f99ea0" stroke-width="0.62"/>
<rect x="284.85" y="197.9" width="12.3" height="18.8" fill="none" stroke="#f99ea0" stroke-width="0.62"/>
<line x1="284.85" y1="205.6" x2="297.15" y2="205.6" stroke="#f99ea0" stroke-width="0.62"/>
<text x="284.6" y="186.8" font-size="3.9" text-anchor="middle" fill="#333" stroke="#333" stroke-width="0.18">****</text>
<rect x="266.1" y="179.8" width="33.8" height="38.7" fill="none" stroke="#8c8c8c" stroke-width="0.8"/>
<rect x="266.2" y="174" width="33.6" height="5.8" fill="#000"/>
<text x="283.6" y="179" font-size="4.45" text-anchor="middle" fill="#fff">Bladder</text>
<line x1="302.7" y1="184.2" x2="336.7" y2="184.2" stroke="#e8e8e8" stroke-width="0.5"/>
<line x1="302.7" y1="197.4" x2="336.7" y2="197.4" stroke="#e8e8e8" stroke-width="0.5"/>
<line x1="302.7" y1="210.6" x2="336.7" y2="210.6" stroke="#e8e8e8" stroke-width="0.5"/>
<line x1="302.7" y1="190.8" x2="336.7" y2="190.8" stroke="#d9d9d9" stroke-width="0.5"/>
<line x1="302.7" y1="204" x2="336.7" y2="204" stroke="#d9d9d9" stroke-width="0.5"/>
<line x1="302.7" y1="217.2" x2="336.7" y2="217.2" stroke="#d9d9d9" stroke-width="0.5"/>
<line x1="311.75" y1="179.8" x2="311.75" y2="218.5" stroke="#e0e0e0" stroke-width="0.5"/>
<line x1="327.35" y1="179.8" x2="327.35" y2="218.5" stroke="#e0e0e0" stroke-width="0.5"/>
<rect x="305.6" y="216.2" width="12.3" height="0.6" fill="none" stroke="#36c6c8" stroke-width="0.62"/>
<line x1="305.6" y1="216.5" x2="317.9" y2="216.5" stroke="#36c6c8" stroke-width="0.62"/>
<circle cx="311.75" cy="197.5" r="0.85" fill="#22c0c3"/>
<rect x="311.05" y="199.8" width="1.4" height="7.7" rx="0.7" fill="#22c0c3"/>
<line x1="327.35" y1="193" x2="327.35" y2="207.5" stroke="#f99ea0" stroke-width="0.62"/>
<rect x="321.2" y="207.5" width="12.3" height="9.2" fill="none" stroke="#f99ea0" stroke-width="0.62"/>
<line x1="321.2" y1="216.3" x2="333.5" y2="216.3" stroke="#f99ea0" stroke-width="0.62"/>
<circle cx="327.35" cy="188.3" r="0.85" fill="#f26c64"/>
<text x="320.8" y="186.8" font-size="3.9" text-anchor="middle" fill="#333" stroke="#333" stroke-width="0.18">****</text>
<rect x="302.6" y="179.8" width="34.2" height="38.7" fill="none" stroke="#8c8c8c" stroke-width="0.8"/>
<rect x="302.7" y="174" width="34" height="5.8" fill="#000"/>
<text x="320.3" y="179" font-size="4.45" text-anchor="middle" fill="#fff">Blood</text>
<line x1="339.3" y1="184.2" x2="373.1" y2="184.2" stroke="#e8e8e8" stroke-width="0.5"/>
<line x1="339.3" y1="197.4" x2="373.1" y2="197.4" stroke="#e8e8e8" stroke-width="0.5"/>
<line x1="339.3" y1="210.6" x2="373.1" y2="210.6" stroke="#e8e8e8" stroke-width="0.5"/>
<line x1="339.3" y1="190.8" x2="373.1" y2="190.8" stroke="#d9d9d9" stroke-width="0.5"/>
<line x1="339.3" y1="204" x2="373.1" y2="204" stroke="#d9d9d9" stroke-width="0.5"/>
<line x1="339.3" y1="217.2" x2="373.1" y2="217.2" stroke="#d9d9d9" stroke-width="0.5"/>
<line x1="348.35" y1="179.8" x2="348.35" y2="218.5" stroke="#e0e0e0" stroke-width="0.5"/>
<line x1="364.15" y1="179.8" x2="364.15" y2="218.5" stroke="#e0e0e0" stroke-width="0.5"/>
<line x1="348.35" y1="183.1" x2="348.35" y2="203.7" stroke="#36c6c8" stroke-width="0.62"/>
<rect x="342.2" y="203.7" width="12.3" height="13" fill="none" stroke="#36c6c8" stroke-width="0.62"/>
<line x1="342.2" y1="216" x2="354.5" y2="216" stroke="#36c6c8" stroke-width="0.62"/>
<line x1="364.15" y1="183.1" x2="364.15" y2="194" stroke="#f99ea0" stroke-width="0.62"/>
<rect x="358" y="194" width="12.3" height="22.7" fill="none" stroke="#f99ea0" stroke-width="0.62"/>
<line x1="358" y1="198.8" x2="370.3" y2="198.8" stroke="#f99ea0" stroke-width="0.62"/>
<text x="357.9" y="186.8" font-size="3.9" text-anchor="middle" fill="#333" stroke="#333" stroke-width="0.18">****</text>
<rect x="339.2" y="179.8" width="34" height="38.7" fill="none" stroke="#8c8c8c" stroke-width="0.8"/>
<rect x="339.3" y="174" width="33.8" height="5.8" fill="#000"/>
<text x="356.8" y="179" font-size="4.45" text-anchor="middle" fill="#fff">Brain</text>
<line x1="375.5" y1="184.2" x2="410.2" y2="184.2" stroke="#e8e8e8" stroke-width="0.5"/>
<line x1="375.5" y1="197.4" x2="410.2" y2="197.4" stroke="#e8e8e8" stroke-width="0.5"/>
<line x1="375.5" y1="210.6" x2="410.2" y2="210.6" stroke="#e8e8e8" stroke-width="0.5"/>
<line x1="375.5" y1="190.8" x2="410.2" y2="190.8" stroke="#d9d9d9" stroke-width="0.5"/>
<line x1="375.5" y1="204" x2="410.2" y2="204" stroke="#d9d9d9" stroke-width="0.5"/>
<line x1="375.5" y1="217.2" x2="410.2" y2="217.2" stroke="#d9d9d9" stroke-width="0.5"/>
<line x1="384.85" y1="179.8" x2="384.85" y2="218.5" stroke="#e0e0e0" stroke-width="0.5"/>
<line x1="400.4" y1="179.8" x2="400.4" y2="218.5" stroke="#e0e0e0" stroke-width="0.5"/>
<line x1="384.85" y1="190.2" x2="384.85" y2="195.4" stroke="#36c6c8" stroke-width="0.62"/>
<rect x="378.7" y="195.4" width="12.3" height="21.3" fill="none" stroke="#36c6c8" stroke-width="0.62"/>
<line x1="378.7" y1="198.5" x2="391" y2="198.5" stroke="#36c6c8" stroke-width="0.62"/>
<line x1="400.4" y1="183.5" x2="400.4" y2="191.2" stroke="#f99ea0" stroke-width="0.62"/>
<line x1="400.4" y1="205" x2="400.4" y2="216.7" stroke="#f99ea0" stroke-width="0.62"/>
<rect x="394.25" y="191.2" width="12.3" height="13.8" fill="none" stroke="#f99ea0" stroke-width="0.62"/>
<line x1="394.25" y1="195" x2="406.55" y2="195" stroke="#f99ea0" stroke-width="0.62"/>
<text x="394.4" y="186.8" font-size="3.9" text-anchor="middle" fill="#333" stroke="#333" stroke-width="0.18">****</text>
<rect x="375.4" y="179.8" width="34.9" height="38.7" fill="none" stroke="#8c8c8c" stroke-width="0.8"/>
<rect x="375.5" y="174" width="34.7" height="5.8" fill="#000"/>
<text x="393.45" y="179" font-size="4.45" text-anchor="middle" fill="#fff">Breast</text>
<line x1="229.2" y1="230.6" x2="263.8" y2="230.6" stroke="#e8e8e8" stroke-width="0.5"/>
<line x1="229.2" y1="243.8" x2="263.8" y2="243.8" stroke="#e8e8e8" stroke-width="0.5"/>
<line x1="229.2" y1="257" x2="263.8" y2="257" stroke="#e8e8e8" stroke-width="0.5"/>
<line x1="229.2" y1="237.2" x2="263.8" y2="237.2" stroke="#d9d9d9" stroke-width="0.5"/>
<line x1="229.2" y1="250.4" x2="263.8" y2="250.4" stroke="#d9d9d9" stroke-width="0.5"/>
<line x1="229.2" y1="263.6" x2="263.8" y2="263.6" stroke="#d9d9d9" stroke-width="0.5"/>
<line x1="239" y1="226.7" x2="239" y2="265.3" stroke="#e0e0e0" stroke-width="0.5"/>
<line x1="254.5" y1="226.7" x2="254.5" y2="265.3" stroke="#e0e0e0" stroke-width="0.5"/>
<line x1="239" y1="236" x2="239" y2="241.4" stroke="#36c6c8" stroke-width="0.62"/>
<rect x="232.85" y="241.4" width="12.3" height="22.3" fill="none" stroke="#36c6c8" stroke-width="0.62"/>
<line x1="232.85" y1="244.9" x2="245.15" y2="244.9" stroke="#36c6c8" stroke-width="0.62"/>
<line x1="254.5" y1="231.4" x2="254.5" y2="239.1" stroke="#f99ea0" stroke-width="0.62"/>
<line x1="254.5" y1="252" x2="254.5" y2="263.7" stroke="#f99ea0" stroke-width="0.62"/>
<rect x="248.35" y="239.1" width="12.3" height="12.9" fill="none" stroke="#f99ea0" stroke-width="0.62"/>
<line x1="248.35" y1="243.9" x2="260.65" y2="243.9" stroke="#f99ea0" stroke-width="0.62"/>
<text x="248.1" y="233.7" font-size="3.9" text-anchor="middle" fill="#333" stroke="#333" stroke-width="0.18">***</text>
<rect x="229.1" y="226.7" width="34.8" height="38.6" fill="none" stroke="#8c8c8c" stroke-width="0.8"/>
<rect x="229.2" y="220.9" width="34.6" height="5.8" fill="#000"/>
<text x="247.1" y="225.9" font-size="4.45" text-anchor="middle" fill="#fff">Colon</text>
<line x1="227.9" y1="237.2" x2="229" y2="237.2" stroke="#333" stroke-width="0.5"/>
<text x="225.8" y="239.1" font-size="3.4" text-anchor="end" fill="#444" stroke="#444" stroke-width="0.08">0</text>
<line x1="227.9" y1="250.4" x2="229" y2="250.4" stroke="#333" stroke-width="0.5"/>
<text x="225.8" y="252.3" font-size="3.4" text-anchor="end" fill="#444" stroke="#444" stroke-width="0.08">−5</text>
<line x1="227.9" y1="263.6" x2="229" y2="263.6" stroke="#333" stroke-width="0.5"/>
<text x="225.8" y="265.5" font-size="3.4" text-anchor="end" fill="#444" stroke="#444" stroke-width="0.08">−10</text>
<line x1="266.2" y1="230.6" x2="299.8" y2="230.6" stroke="#e8e8e8" stroke-width="0.5"/>
<line x1="266.2" y1="243.8" x2="299.8" y2="243.8" stroke="#e8e8e8" stroke-width="0.5"/>
<line x1="266.2" y1="257" x2="299.8" y2="257" stroke="#e8e8e8" stroke-width="0.5"/>
<line x1="266.2" y1="237.2" x2="299.8" y2="237.2" stroke="#d9d9d9" stroke-width="0.5"/>
<line x1="266.2" y1="250.4" x2="299.8" y2="250.4" stroke="#d9d9d9" stroke-width="0.5"/>
<line x1="266.2" y1="263.6" x2="299.8" y2="263.6" stroke="#d9d9d9" stroke-width="0.5"/>
<line x1="275.5" y1="226.7" x2="275.5" y2="265.3" stroke="#e0e0e0" stroke-width="0.5"/>
<line x1="291" y1="226.7" x2="291" y2="265.3" stroke="#e0e0e0" stroke-width="0.5"/>
<line x1="275.5" y1="236.2" x2="275.5" y2="242" stroke="#36c6c8" stroke-width="0.62"/>
<rect x="269.35" y="242" width="12.3" height="21.7" fill="none" stroke="#36c6c8" stroke-width="0.62"/>
<line x1="269.35" y1="246.2" x2="281.65" y2="246.2" stroke="#36c6c8" stroke-width="0.62"/>
<line x1="291" y1="230.8" x2="291" y2="246.2" stroke="#f99ea0" stroke-width="0.62"/>
<rect x="284.85" y="246.2" width="12.3" height="17.5" fill="none" stroke="#f99ea0" stroke-width="0.62"/>
<line x1="284.85" y1="251.6" x2="297.15" y2="251.6" stroke="#f99ea0" stroke-width="0.62"/>
<text x="284.9" y="233.7" font-size="3.9" text-anchor="middle" fill="#333" stroke="#333" stroke-width="0.18">****</text>
<rect x="266.1" y="226.7" width="33.8" height="38.6" fill="none" stroke="#8c8c8c" stroke-width="0.8"/>
<rect x="266.2" y="220.9" width="33.6" height="5.8" fill="#000"/>
<text x="283.6" y="225.9" font-size="4.45" text-anchor="middle" fill="#fff">Esophagus</text>
<line x1="302.7" y1="230.6" x2="336.7" y2="230.6" stroke="#e8e8e8" stroke-width="0.5"/>
<line x1="302.7" y1="243.8" x2="336.7" y2="243.8" stroke="#e8e8e8" stroke-width="0.5"/>
<line x1="302.7" y1="257" x2="336.7" y2="257" stroke="#e8e8e8" stroke-width="0.5"/>
<line x1="302.7" y1="237.2" x2="336.7" y2="237.2" stroke="#d9d9d9" stroke-width="0.5"/>
<line x1="302.7" y1="250.4" x2="336.7" y2="250.4" stroke="#d9d9d9" stroke-width="0.5"/>
<line x1="302.7" y1="263.6" x2="336.7" y2="263.6" stroke="#d9d9d9" stroke-width="0.5"/>
<line x1="311.75" y1="226.7" x2="311.75" y2="265.3" stroke="#e0e0e0" stroke-width="0.5"/>
<line x1="327.35" y1="226.7" x2="327.35" y2="265.3" stroke="#e0e0e0" stroke-width="0.5"/>
<line x1="311.75" y1="254.5" x2="311.75" y2="263.7" stroke="#36c6c8" stroke-width="0.62"/>
<rect x="305.6" y="244.3" width="12.3" height="10.2" fill="none" stroke="#36c6c8" stroke-width="0.62"/>
<line x1="305.6" y1="245.5" x2="317.9" y2="245.5" stroke="#36c6c8" stroke-width="0.62"/>
<line x1="327.35" y1="230.8" x2="327.35" y2="244.5" stroke="#f99ea0" stroke-width="0.62"/>
<rect x="321.2" y="244.5" width="12.3" height="19.2" fill="none" stroke="#f99ea0" stroke-width="0.62"/>
<line x1="321.2" y1="249.3" x2="333.5" y2="249.3" stroke="#f99ea0" stroke-width="0.62"/>
<text x="320.9" y="233.3" font-size="3.8" text-anchor="middle" fill="#222" stroke="#222" stroke-width="0.2">ns</text>
<rect x="302.6" y="226.7" width="34.2" height="38.6" fill="none" stroke="#8c8c8c" stroke-width="0.8"/>
<rect x="302.7" y="220.9" width="34" height="5.8" fill="#000"/>
<clipPath id="cft"><rect x="302.7" y="220.9" width="34" height="5.8"/></clipPath>
<text x="321.85" y="225.9" font-size="4.45" text-anchor="middle" fill="#fff" clip-path="url(#cft)">Fallopian Tube</text>
<line x1="339.3" y1="230.6" x2="373.1" y2="230.6" stroke="#e8e8e8" stroke-width="0.5"/>
<line x1="339.3" y1="243.8" x2="373.1" y2="243.8" stroke="#e8e8e8" stroke-width="0.5"/>
<line x1="339.3" y1="257" x2="373.1" y2="257" stroke="#e8e8e8" stroke-width="0.5"/>
<line x1="339.3" y1="237.2" x2="373.1" y2="237.2" stroke="#d9d9d9" stroke-width="0.5"/>
<line x1="339.3" y1="250.4" x2="373.1" y2="250.4" stroke="#d9d9d9" stroke-width="0.5"/>
<line x1="339.3" y1="263.6" x2="373.1" y2="263.6" stroke="#d9d9d9" stroke-width="0.5"/>
<line x1="348.35" y1="226.7" x2="348.35" y2="265.3" stroke="#e0e0e0" stroke-width="0.5"/>
<line x1="364.15" y1="226.7" x2="364.15" y2="265.3" stroke="#e0e0e0" stroke-width="0.5"/>
<line x1="348.35" y1="239.7" x2="348.35" y2="243" stroke="#36c6c8" stroke-width="0.62"/>
<rect x="342.2" y="243" width="12.3" height="20.7" fill="none" stroke="#36c6c8" stroke-width="0.62"/>
<line x1="342.2" y1="246.8" x2="354.5" y2="246.8" stroke="#36c6c8" stroke-width="0.62"/>
<line x1="364.15" y1="230.1" x2="364.15" y2="240.5" stroke="#f99ea0" stroke-width="0.62"/>
<rect x="358" y="240.5" width="12.3" height="23.2" fill="none" stroke="#f99ea0" stroke-width="0.62"/>
<line x1="358" y1="247.8" x2="370.3" y2="247.8" stroke="#f99ea0" stroke-width="0.62"/>
<text x="356.9" y="233.3" font-size="3.8" text-anchor="middle" fill="#222" stroke="#222" stroke-width="0.2">ns</text>
<rect x="339.2" y="226.7" width="34" height="38.6" fill="none" stroke="#8c8c8c" stroke-width="0.8"/>
<rect x="339.3" y="220.9" width="33.8" height="5.8" fill="#000"/>
<text x="356.8" y="225.9" font-size="4.45" text-anchor="middle" fill="#fff">Kidney</text>
<line x1="375.5" y1="230.6" x2="410.2" y2="230.6" stroke="#e8e8e8" stroke-width="0.5"/>
<line x1="375.5" y1="243.8" x2="410.2" y2="243.8" stroke="#e8e8e8" stroke-width="0.5"/>
<line x1="375.5" y1="257" x2="410.2" y2="257" stroke="#e8e8e8" stroke-width="0.5"/>
<line x1="375.5" y1="237.2" x2="410.2" y2="237.2" stroke="#d9d9d9" stroke-width="0.5"/>
<line x1="375.5" y1="250.4" x2="410.2" y2="250.4" stroke="#d9d9d9" stroke-width="0.5"/>
<line x1="375.5" y1="263.6" x2="410.2" y2="263.6" stroke="#d9d9d9" stroke-width="0.5"/>
<line x1="384.85" y1="226.7" x2="384.85" y2="265.3" stroke="#e0e0e0" stroke-width="0.5"/>
<line x1="400.4" y1="226.7" x2="400.4" y2="265.3" stroke="#e0e0e0" stroke-width="0.5"/>
<line x1="384.85" y1="241.6" x2="384.85" y2="247.6" stroke="#36c6c8" stroke-width="0.62"/>
<rect x="378.7" y="247.6" width="12.3" height="16" fill="none" stroke="#36c6c8" stroke-width="0.62"/>
<line x1="378.7" y1="263.2" x2="391" y2="263.2" stroke="#36c6c8" stroke-width="0.62"/>
<rect x="394.25" y="263.1" width="12.3" height="0.6" fill="none" stroke="#f99ea0" stroke-width="0.62"/>
<line x1="394.25" y1="263.3" x2="406.55" y2="263.3" stroke="#f99ea0" stroke-width="0.62"/>
<rect x="399.7" y="235.6" width="1.4" height="19.9" rx="0.7" fill="#f26c64"/>
<text x="394.7" y="233.7" font-size="3.9" text-anchor="middle" fill="#333" stroke="#333" stroke-width="0.18">****</text>
<rect x="375.4" y="226.7" width="34.9" height="38.6" fill="none" stroke="#8c8c8c" stroke-width="0.8"/>
<rect x="375.5" y="220.9" width="34.7" height="5.8" fill="#000"/>
<text x="393.45" y="225.9" font-size="4.45" text-anchor="middle" fill="#fff">Liver</text>
<line x1="229.2" y1="277" x2="263.8" y2="277" stroke="#e8e8e8" stroke-width="0.5"/>
<line x1="229.2" y1="290.2" x2="263.8" y2="290.2" stroke="#e8e8e8" stroke-width="0.5"/>
<line x1="229.2" y1="303.4" x2="263.8" y2="303.4" stroke="#e8e8e8" stroke-width="0.5"/>
<line x1="229.2" y1="283.6" x2="263.8" y2="283.6" stroke="#d9d9d9" stroke-width="0.5"/>
<line x1="229.2" y1="296.8" x2="263.8" y2="296.8" stroke="#d9d9d9" stroke-width="0.5"/>
<line x1="229.2" y1="310" x2="263.8" y2="310" stroke="#d9d9d9" stroke-width="0.5"/>
<line x1="239" y1="272.9" x2="239" y2="311.4" stroke="#e0e0e0" stroke-width="0.5"/>
<line x1="254.5" y1="272.9" x2="254.5" y2="311.4" stroke="#e0e0e0" stroke-width="0.5"/>
<line x1="239" y1="283.2" x2="239" y2="290.5" stroke="#36c6c8" stroke-width="0.62"/>
<rect x="232.85" y="290.5" width="12.3" height="19.7" fill="none" stroke="#36c6c8" stroke-width="0.62"/>
<line x1="232.85" y1="295.7" x2="245.15" y2="295.7" stroke="#36c6c8" stroke-width="0.62"/>
<line x1="254.5" y1="275.9" x2="254.5" y2="286.1" stroke="#f99ea0" stroke-width="0.62"/>
<line x1="254.5" y1="300.5" x2="254.5" y2="310.2" stroke="#f99ea0" stroke-width="0.62"/>
<rect x="248.35" y="286.1" width="12.3" height="14.4" fill="none" stroke="#f99ea0" stroke-width="0.62"/>
<line x1="248.35" y1="291.3" x2="260.65" y2="291.3" stroke="#f99ea0" stroke-width="0.62"/>
<text x="248.5" y="279.9" font-size="3.9" text-anchor="middle" fill="#333" stroke="#333" stroke-width="0.18">****</text>
<rect x="229.1" y="272.9" width="34.8" height="38.5" fill="none" stroke="#8c8c8c" stroke-width="0.8"/>
<rect x="229.2" y="267.1" width="34.6" height="5.8" fill="#000"/>
<text x="247.1" y="272.1" font-size="4.45" text-anchor="middle" fill="#fff">Lung</text>
<line x1="227.9" y1="283.6" x2="229" y2="283.6" stroke="#333" stroke-width="0.5"/>
<text x="225.8" y="285.5" font-size="3.4" text-anchor="end" fill="#444" stroke="#444" stroke-width="0.08">0</text>
<line x1="227.9" y1="296.8" x2="229" y2="296.8" stroke="#333" stroke-width="0.5"/>
<text x="225.8" y="298.7" font-size="3.4" text-anchor="end" fill="#444" stroke="#444" stroke-width="0.08">−5</text>
<line x1="227.9" y1="310" x2="229" y2="310" stroke="#333" stroke-width="0.5"/>
<text x="225.8" y="311.9" font-size="3.4" text-anchor="end" fill="#444" stroke="#444" stroke-width="0.08">−10</text>
<line x1="266.2" y1="277" x2="299.8" y2="277" stroke="#e8e8e8" stroke-width="0.5"/>
<line x1="266.2" y1="290.2" x2="299.8" y2="290.2" stroke="#e8e8e8" stroke-width="0.5"/>
<line x1="266.2" y1="303.4" x2="299.8" y2="303.4" stroke="#e8e8e8" stroke-width="0.5"/>
<line x1="266.2" y1="283.6" x2="299.8" y2="283.6" stroke="#d9d9d9" stroke-width="0.5"/>
<line x1="266.2" y1="296.8" x2="299.8" y2="296.8" stroke="#d9d9d9" stroke-width="0.5"/>
<line x1="266.2" y1="310" x2="299.8" y2="310" stroke="#d9d9d9" stroke-width="0.5"/>
<line x1="275.5" y1="272.9" x2="275.5" y2="311.4" stroke="#e0e0e0" stroke-width="0.5"/>
<line x1="291" y1="272.9" x2="291" y2="311.4" stroke="#e0e0e0" stroke-width="0.5"/>
<line x1="275.5" y1="285.2" x2="275.5" y2="294.8" stroke="#36c6c8" stroke-width="0.62"/>
<rect x="269.35" y="294.8" width="12.3" height="15.4" fill="none" stroke="#36c6c8" stroke-width="0.62"/>
<line x1="269.35" y1="300.2" x2="281.65" y2="300.2" stroke="#36c6c8" stroke-width="0.62"/>
<line x1="291" y1="278.4" x2="291" y2="290" stroke="#f99ea0" stroke-width="0.62"/>
<rect x="284.85" y="290" width="12.3" height="20.2" fill="none" stroke="#f99ea0" stroke-width="0.62"/>
<line x1="284.85" y1="299.2" x2="297.15" y2="299.2" stroke="#f99ea0" stroke-width="0.62"/>
<text x="283" y="279.9" font-size="3.9" text-anchor="middle" fill="#333" stroke="#333" stroke-width="0.18">*</text>
<rect x="266.1" y="272.9" width="33.8" height="38.5" fill="none" stroke="#8c8c8c" stroke-width="0.8"/>
<rect x="266.2" y="267.1" width="33.6" height="5.8" fill="#000"/>
<text x="283.6" y="272.1" font-size="4.45" text-anchor="middle" fill="#fff">Muscle</text>
<line x1="302.7" y1="277" x2="336.7" y2="277" stroke="#e8e8e8" stroke-width="0.5"/>
<line x1="302.7" y1="290.2" x2="336.7" y2="290.2" stroke="#e8e8e8" stroke-width="0.5"/>
<line x1="302.7" y1="303.4" x2="336.7" y2="303.4" stroke="#e8e8e8" stroke-width="0.5"/>
<line x1="302.7" y1="283.6" x2="336.7" y2="283.6" stroke="#d9d9d9" stroke-width="0.5"/>
<line x1="302.7" y1="296.8" x2="336.7" y2="296.8" stroke="#d9d9d9" stroke-width="0.5"/>
<line x1="302.7" y1="310" x2="336.7" y2="310" stroke="#d9d9d9" stroke-width="0.5"/>
<line x1="311.75" y1="272.9" x2="311.75" y2="311.4" stroke="#e0e0e0" stroke-width="0.5"/>
<line x1="327.35" y1="272.9" x2="327.35" y2="311.4" stroke="#e0e0e0" stroke-width="0.5"/>
<line x1="311.75" y1="288" x2="311.75" y2="291.9" stroke="#36c6c8" stroke-width="0.62"/>
<rect x="305.6" y="291.9" width="12.3" height="18.3" fill="none" stroke="#36c6c8" stroke-width="0.62"/>
<line x1="305.6" y1="294.8" x2="317.9" y2="294.8" stroke="#36c6c8" stroke-width="0.62"/>
<line x1="327.35" y1="275.9" x2="327.35" y2="288.6" stroke="#f99ea0" stroke-width="0.62"/>
<rect x="321.2" y="288.6" width="12.3" height="21.6" fill="none" stroke="#f99ea0" stroke-width="0.62"/>
<line x1="321.2" y1="293.8" x2="333.5" y2="293.8" stroke="#f99ea0" stroke-width="0.62"/>
<text x="320.1" y="279.9" font-size="3.9" text-anchor="middle" fill="#333" stroke="#333" stroke-width="0.18">*</text>
<rect x="302.6" y="272.9" width="34.2" height="38.5" fill="none" stroke="#8c8c8c" stroke-width="0.8"/>
<rect x="302.7" y="267.1" width="34" height="5.8" fill="#000"/>
<text x="320.3" y="272.1" font-size="4.45" text-anchor="middle" fill="#fff">Pancreas</text>
<line x1="339.3" y1="277" x2="373.1" y2="277" stroke="#e8e8e8" stroke-width="0.5"/>
<line x1="339.3" y1="290.2" x2="373.1" y2="290.2" stroke="#e8e8e8" stroke-width="0.5"/>
<line x1="339.3" y1="303.4" x2="373.1" y2="303.4" stroke="#e8e8e8" stroke-width="0.5"/>
<line x1="339.3" y1="283.6" x2="373.1" y2="283.6" stroke="#d9d9d9" stroke-width="0.5"/>
<line x1="339.3" y1="296.8" x2="373.1" y2="296.8" stroke="#d9d9d9" stroke-width="0.5"/>
<line x1="339.3" y1="310" x2="373.1" y2="310" stroke="#d9d9d9" stroke-width="0.5"/>
<line x1="348.35" y1="272.9" x2="348.35" y2="311.4" stroke="#e0e0e0" stroke-width="0.5"/>
<line x1="364.15" y1="272.9" x2="364.15" y2="311.4" stroke="#e0e0e0" stroke-width="0.5"/>
<line x1="348.35" y1="284.2" x2="348.35" y2="289.4" stroke="#36c6c8" stroke-width="0.62"/>
<rect x="342.2" y="289.4" width="12.3" height="20.8" fill="none" stroke="#36c6c8" stroke-width="0.62"/>
<line x1="342.2" y1="292.5" x2="354.5" y2="292.5" stroke="#36c6c8" stroke-width="0.62"/>
<line x1="364.15" y1="275.9" x2="364.15" y2="283.2" stroke="#f99ea0" stroke-width="0.62"/>
<line x1="364.15" y1="295.7" x2="364.15" y2="310.2" stroke="#f99ea0" stroke-width="0.62"/>
<rect x="358" y="283.2" width="12.3" height="12.5" fill="none" stroke="#f99ea0" stroke-width="0.62"/>
<line x1="358" y1="287.5" x2="370.3" y2="287.5" stroke="#f99ea0" stroke-width="0.62"/>
<text x="357.9" y="279.9" font-size="3.9" text-anchor="middle" fill="#333" stroke="#333" stroke-width="0.18">****</text>
<rect x="339.2" y="272.9" width="34" height="38.5" fill="none" stroke="#8c8c8c" stroke-width="0.8"/>
<rect x="339.3" y="267.1" width="33.8" height="5.8" fill="#000"/>
<text x="356.8" y="272.1" font-size="4.45" text-anchor="middle" fill="#fff">Prostate</text>
<line x1="375.5" y1="277" x2="410.2" y2="277" stroke="#e8e8e8" stroke-width="0.5"/>
<line x1="375.5" y1="290.2" x2="410.2" y2="290.2" stroke="#e8e8e8" stroke-width="0.5"/>
<line x1="375.5" y1="303.4" x2="410.2" y2="303.4" stroke="#e8e8e8" stroke-width="0.5"/>
<line x1="375.5" y1="283.6" x2="410.2" y2="283.6" stroke="#d9d9d9" stroke-width="0.5"/>
<line x1="375.5" y1="296.8" x2="410.2" y2="296.8" stroke="#d9d9d9" stroke-width="0.5"/>
<line x1="375.5" y1="310" x2="410.2" y2="310" stroke="#d9d9d9" stroke-width="0.5"/>
<line x1="384.85" y1="272.9" x2="384.85" y2="311.4" stroke="#e0e0e0" stroke-width="0.5"/>
<line x1="400.4" y1="272.9" x2="400.4" y2="311.4" stroke="#e0e0e0" stroke-width="0.5"/>
<line x1="384.85" y1="283.6" x2="384.85" y2="287.5" stroke="#36c6c8" stroke-width="0.62"/>
<line x1="384.85" y1="303.5" x2="384.85" y2="311" stroke="#36c6c8" stroke-width="0.62"/>
<rect x="378.7" y="287.5" width="12.3" height="16" fill="none" stroke="#36c6c8" stroke-width="0.62"/>
<line x1="378.7" y1="289.9" x2="391" y2="289.9" stroke="#36c6c8" stroke-width="0.62"/>
<line x1="400.4" y1="283" x2="400.4" y2="296.3" stroke="#f99ea0" stroke-width="0.62"/>
<rect x="394.25" y="296.3" width="12.3" height="14.7" fill="none" stroke="#f99ea0" stroke-width="0.62"/>
<line x1="394.25" y1="310.8" x2="406.55" y2="310.8" stroke="#f99ea0" stroke-width="0.62"/>
<text x="394.8" y="279.9" font-size="3.9" text-anchor="middle" fill="#333" stroke="#333" stroke-width="0.18">****</text>
<rect x="375.4" y="272.9" width="34.9" height="38.5" fill="none" stroke="#8c8c8c" stroke-width="0.8"/>
<rect x="375.5" y="267.1" width="34.7" height="5.8" fill="#000"/>
<text x="393.45" y="272.1" font-size="4.45" text-anchor="middle" fill="#fff">Skin</text>
<line x1="384.85" y1="311.7" x2="384.85" y2="312.6" stroke="#333" stroke-width="0.5"/>
<text x="383.85" y="316.8" font-size="3.9" text-anchor="middle" fill="#2a2a2a" textLength="10.6" lengthAdjust="spacingAndGlyphs" stroke="#2a2a2a" stroke-width="0.14">GTEX</text>
<line x1="400.4" y1="311.7" x2="400.4" y2="312.6" stroke="#333" stroke-width="0.5"/>
<text x="399.4" y="316.8" font-size="3.9" text-anchor="middle" fill="#2a2a2a" textLength="10.6" lengthAdjust="spacingAndGlyphs" stroke="#2a2a2a" stroke-width="0.14">TCGA</text>
<line x1="229.2" y1="323.6" x2="263.8" y2="323.6" stroke="#e8e8e8" stroke-width="0.5"/>
<line x1="229.2" y1="336.8" x2="263.8" y2="336.8" stroke="#e8e8e8" stroke-width="0.5"/>
<line x1="229.2" y1="350" x2="263.8" y2="350" stroke="#e8e8e8" stroke-width="0.5"/>
<line x1="229.2" y1="330.2" x2="263.8" y2="330.2" stroke="#d9d9d9" stroke-width="0.5"/>
<line x1="229.2" y1="343.4" x2="263.8" y2="343.4" stroke="#d9d9d9" stroke-width="0.5"/>
<line x1="229.2" y1="356.6" x2="263.8" y2="356.6" stroke="#d9d9d9" stroke-width="0.5"/>
<line x1="239" y1="319" x2="239" y2="358.2" stroke="#e0e0e0" stroke-width="0.5"/>
<line x1="254.5" y1="319" x2="254.5" y2="358.2" stroke="#e0e0e0" stroke-width="0.5"/>
<line x1="239" y1="330.2" x2="239" y2="337.3" stroke="#36c6c8" stroke-width="0.62"/>
<rect x="232.85" y="337.3" width="12.3" height="19.4" fill="none" stroke="#36c6c8" stroke-width="0.62"/>
<line x1="232.85" y1="341.2" x2="245.15" y2="341.2" stroke="#36c6c8" stroke-width="0.62"/>
<line x1="254.5" y1="328.3" x2="254.5" y2="338.5" stroke="#f99ea0" stroke-width="0.62"/>
<rect x="248.35" y="338.5" width="12.3" height="18.2" fill="none" stroke="#f99ea0" stroke-width="0.62"/>
<line x1="248.35" y1="344.6" x2="260.65" y2="344.6" stroke="#f99ea0" stroke-width="0.62"/>
<text x="248.2" y="325.6" font-size="3.8" text-anchor="middle" fill="#222" stroke="#222" stroke-width="0.2">ns</text>
<rect x="229.1" y="319" width="34.8" height="39.2" fill="none" stroke="#8c8c8c" stroke-width="0.8"/>
<rect x="229.2" y="313.2" width="34.6" height="5.8" fill="#000"/>
<text x="247.1" y="318.2" font-size="4.45" text-anchor="middle" fill="#fff">Stomach</text>
<line x1="227.9" y1="330.2" x2="229" y2="330.2" stroke="#333" stroke-width="0.5"/>
<text x="225.8" y="332.1" font-size="3.4" text-anchor="end" fill="#444" stroke="#444" stroke-width="0.08">0</text>
<line x1="227.9" y1="343.4" x2="229" y2="343.4" stroke="#333" stroke-width="0.5"/>
<text x="225.8" y="345.3" font-size="3.4" text-anchor="end" fill="#444" stroke="#444" stroke-width="0.08">−5</text>
<line x1="227.9" y1="356.6" x2="229" y2="356.6" stroke="#333" stroke-width="0.5"/>
<text x="225.8" y="358.5" font-size="3.4" text-anchor="end" fill="#444" stroke="#444" stroke-width="0.08">−10</text>
<line x1="239" y1="358.5" x2="239" y2="359.4" stroke="#333" stroke-width="0.5"/>
<text x="238" y="363.6" font-size="3.9" text-anchor="middle" fill="#2a2a2a" textLength="10.6" lengthAdjust="spacingAndGlyphs" stroke="#2a2a2a" stroke-width="0.14">GTEX</text>
<line x1="254.5" y1="358.5" x2="254.5" y2="359.4" stroke="#333" stroke-width="0.5"/>
<text x="253.5" y="363.6" font-size="3.9" text-anchor="middle" fill="#2a2a2a" textLength="10.6" lengthAdjust="spacingAndGlyphs" stroke="#2a2a2a" stroke-width="0.14">TCGA</text>
<line x1="266.2" y1="323.6" x2="299.8" y2="323.6" stroke="#e8e8e8" stroke-width="0.5"/>
<line x1="266.2" y1="336.8" x2="299.8" y2="336.8" stroke="#e8e8e8" stroke-width="0.5"/>
<line x1="266.2" y1="350" x2="299.8" y2="350" stroke="#e8e8e8" stroke-width="0.5"/>
<line x1="266.2" y1="330.2" x2="299.8" y2="330.2" stroke="#d9d9d9" stroke-width="0.5"/>
<line x1="266.2" y1="343.4" x2="299.8" y2="343.4" stroke="#d9d9d9" stroke-width="0.5"/>
<line x1="266.2" y1="356.6" x2="299.8" y2="356.6" stroke="#d9d9d9" stroke-width="0.5"/>
<line x1="275.5" y1="319" x2="275.5" y2="358.2" stroke="#e0e0e0" stroke-width="0.5"/>
<line x1="291" y1="319" x2="291" y2="358.2" stroke="#e0e0e0" stroke-width="0.5"/>
<line x1="275.5" y1="323.8" x2="275.5" y2="329.2" stroke="#36c6c8" stroke-width="0.62"/>
<rect x="269.35" y="329.2" width="12.3" height="2.9" fill="none" stroke="#36c6c8" stroke-width="0.62"/>
<line x1="269.35" y1="330.5" x2="281.65" y2="330.5" stroke="#36c6c8" stroke-width="0.62"/>
<circle cx="275.5" cy="337.9" r="0.85" fill="#22c0c3"/>
<circle cx="275.5" cy="341.2" r="0.85" fill="#22c0c3"/>
<circle cx="275.5" cy="356.2" r="0.85" fill="#22c0c3"/>
<line x1="291" y1="329.2" x2="291" y2="333.5" stroke="#f99ea0" stroke-width="0.62"/>
<rect x="284.85" y="333.5" width="12.3" height="23.2" fill="none" stroke="#f99ea0" stroke-width="0.62"/>
<line x1="284.85" y1="337.5" x2="297.15" y2="337.5" stroke="#f99ea0" stroke-width="0.62"/>
<text x="284.9" y="326" font-size="3.9" text-anchor="middle" fill="#333" stroke="#333" stroke-width="0.18">****</text>
<rect x="266.1" y="319" width="33.8" height="39.2" fill="none" stroke="#8c8c8c" stroke-width="0.8"/>
<rect x="266.2" y="313.2" width="33.6" height="5.8" fill="#000"/>
<text x="283.6" y="318.2" font-size="4.45" text-anchor="middle" fill="#fff">Testis</text>
<line x1="275.5" y1="358.5" x2="275.5" y2="359.4" stroke="#333" stroke-width="0.5"/>
<text x="274.5" y="363.6" font-size="3.9" text-anchor="middle" fill="#2a2a2a" textLength="10.6" lengthAdjust="spacingAndGlyphs" stroke="#2a2a2a" stroke-width="0.14">GTEX</text>
<line x1="291" y1="358.5" x2="291" y2="359.4" stroke="#333" stroke-width="0.5"/>
<text x="290" y="363.6" font-size="3.9" text-anchor="middle" fill="#2a2a2a" textLength="10.6" lengthAdjust="spacingAndGlyphs" stroke="#2a2a2a" stroke-width="0.14">TCGA</text>
<line x1="302.7" y1="323.6" x2="336.7" y2="323.6" stroke="#e8e8e8" stroke-width="0.5"/>
<line x1="302.7" y1="336.8" x2="336.7" y2="336.8" stroke="#e8e8e8" stroke-width="0.5"/>
<line x1="302.7" y1="350" x2="336.7" y2="350" stroke="#e8e8e8" stroke-width="0.5"/>
<line x1="302.7" y1="330.2" x2="336.7" y2="330.2" stroke="#d9d9d9" stroke-width="0.5"/>
<line x1="302.7" y1="343.4" x2="336.7" y2="343.4" stroke="#d9d9d9" stroke-width="0.5"/>
<line x1="302.7" y1="356.6" x2="336.7" y2="356.6" stroke="#d9d9d9" stroke-width="0.5"/>
<line x1="311.75" y1="319" x2="311.75" y2="358.2" stroke="#e0e0e0" stroke-width="0.5"/>
<line x1="327.35" y1="319" x2="327.35" y2="358.2" stroke="#e0e0e0" stroke-width="0.5"/>
<line x1="311.75" y1="326.3" x2="311.75" y2="330.2" stroke="#36c6c8" stroke-width="0.62"/>
<line x1="311.75" y1="336.5" x2="311.75" y2="340.8" stroke="#36c6c8" stroke-width="0.62"/>
<rect x="305.6" y="330.2" width="12.3" height="6.3" fill="none" stroke="#36c6c8" stroke-width="0.62"/>
<line x1="305.6" y1="333.1" x2="317.9" y2="333.1" stroke="#36c6c8" stroke-width="0.62"/>
<circle cx="311.75" cy="356.2" r="0.85" fill="#22c0c3"/>
<line x1="327.35" y1="321.9" x2="327.35" y2="334" stroke="#f99ea0" stroke-width="0.62"/>
<line x1="327.35" y1="346.9" x2="327.35" y2="356.7" stroke="#f99ea0" stroke-width="0.62"/>
<rect x="321.2" y="334" width="12.3" height="12.9" fill="none" stroke="#f99ea0" stroke-width="0.62"/>
<line x1="321.2" y1="339.2" x2="333.5" y2="339.2" stroke="#f99ea0" stroke-width="0.62"/>
<text x="321.4" y="326" font-size="3.9" text-anchor="middle" fill="#333" stroke="#333" stroke-width="0.18">****</text>
<rect x="302.6" y="319" width="34.2" height="39.2" fill="none" stroke="#8c8c8c" stroke-width="0.8"/>
<rect x="302.7" y="313.2" width="34" height="5.8" fill="#000"/>
<text x="320.3" y="318.2" font-size="4.45" text-anchor="middle" fill="#fff">Thyroid</text>
<line x1="311.75" y1="358.5" x2="311.75" y2="359.4" stroke="#333" stroke-width="0.5"/>
<text x="310.75" y="363.6" font-size="3.9" text-anchor="middle" fill="#2a2a2a" textLength="10.6" lengthAdjust="spacingAndGlyphs" stroke="#2a2a2a" stroke-width="0.14">GTEX</text>
<line x1="327.35" y1="358.5" x2="327.35" y2="359.4" stroke="#333" stroke-width="0.5"/>
<text x="326.35" y="363.6" font-size="3.9" text-anchor="middle" fill="#2a2a2a" textLength="10.6" lengthAdjust="spacingAndGlyphs" stroke="#2a2a2a" stroke-width="0.14">TCGA</text>
<line x1="339.3" y1="323.6" x2="373.1" y2="323.6" stroke="#e8e8e8" stroke-width="0.5"/>
<line x1="339.3" y1="336.8" x2="373.1" y2="336.8" stroke="#e8e8e8" stroke-width="0.5"/>
<line x1="339.3" y1="350" x2="373.1" y2="350" stroke="#e8e8e8" stroke-width="0.5"/>
<line x1="339.3" y1="330.2" x2="373.1" y2="330.2" stroke="#d9d9d9" stroke-width="0.5"/>
<line x1="339.3" y1="343.4" x2="373.1" y2="343.4" stroke="#d9d9d9" stroke-width="0.5"/>
<line x1="339.3" y1="356.6" x2="373.1" y2="356.6" stroke="#d9d9d9" stroke-width="0.5"/>
<line x1="348.35" y1="319" x2="348.35" y2="358.2" stroke="#e0e0e0" stroke-width="0.5"/>
<line x1="364.15" y1="319" x2="364.15" y2="358.2" stroke="#e0e0e0" stroke-width="0.5"/>
<line x1="348.35" y1="328.3" x2="348.35" y2="332.1" stroke="#36c6c8" stroke-width="0.62"/>
<line x1="348.35" y1="337.3" x2="348.35" y2="341.7" stroke="#36c6c8" stroke-width="0.62"/>
<rect x="342.2" y="332.1" width="12.3" height="5.2" fill="none" stroke="#36c6c8" stroke-width="0.62"/>
<line x1="342.2" y1="334.6" x2="354.5" y2="334.6" stroke="#36c6c8" stroke-width="0.62"/>
<circle cx="348.35" cy="347.5" r="0.85" fill="#22c0c3"/>
<circle cx="348.35" cy="356.2" r="0.85" fill="#22c0c3"/>
<line x1="364.15" y1="333" x2="364.15" y2="347.1" stroke="#f99ea0" stroke-width="0.62"/>
<rect x="358" y="347.1" width="12.3" height="9.6" fill="none" stroke="#f99ea0" stroke-width="0.62"/>
<line x1="358" y1="356.3" x2="370.3" y2="356.3" stroke="#f99ea0" stroke-width="0.62"/>
<circle cx="364.15" cy="323.8" r="0.85" fill="#f26c64"/>
<rect x="363.45" y="328.3" width="1.4" height="4.7" rx="0.7" fill="#f26c64"/>
<text x="357.4" y="326" font-size="3.9" text-anchor="middle" fill="#333" stroke="#333" stroke-width="0.18">****</text>
<rect x="339.2" y="319" width="34" height="39.2" fill="none" stroke="#8c8c8c" stroke-width="0.8"/>
<rect x="339.3" y="313.2" width="33.8" height="5.8" fill="#000"/>
<text x="356.8" y="318.2" font-size="4.45" text-anchor="middle" fill="#fff">Uterus</text>
<line x1="348.35" y1="358.5" x2="348.35" y2="359.4" stroke="#333" stroke-width="0.5"/>
<text x="347.35" y="363.6" font-size="3.9" text-anchor="middle" fill="#2a2a2a" textLength="10.6" lengthAdjust="spacingAndGlyphs" stroke="#2a2a2a" stroke-width="0.14">GTEX</text>
<line x1="364.15" y1="358.5" x2="364.15" y2="359.4" stroke="#333" stroke-width="0.5"/>
<text x="363.15" y="363.6" font-size="3.9" text-anchor="middle" fill="#2a2a2a" textLength="10.6" lengthAdjust="spacingAndGlyphs" stroke="#2a2a2a" stroke-width="0.14">TCGA</text>
<text x="7" y="382.6" font-size="9.6" text-anchor="start" font-weight="bold" textLength="8" lengthAdjust="spacingAndGlyphs" stroke="#000" stroke-width="0.3">C.</text>
<text x="116.4" y="382.6" font-size="6.6" text-anchor="middle" font-weight="bold" textLength="27.2" lengthAdjust="spacingAndGlyphs" stroke="#000" stroke-width="0.22">Isoform 1</text>
<text x="320.5" y="382.7" font-size="6.6" text-anchor="middle" font-weight="bold" textLength="27" lengthAdjust="spacingAndGlyphs" stroke="#000" stroke-width="0.22">Isoform 2</text>
<rect x="11.7" y="388.8" width="201.9" height="11" fill="#5b9bd5"/>
<text x="32.6" y="396.9" font-size="6.35" text-anchor="middle" font-weight="bold" fill="#0d1a2b" textLength="16.17" lengthAdjust="spacingAndGlyphs" stroke="#0d1a2b" stroke-width="0.15">GTEx</text>
<text x="106.5" y="396.9" font-size="6.35" text-anchor="middle" font-weight="bold" fill="#0d1a2b" textLength="17.54" lengthAdjust="spacingAndGlyphs" stroke="#0d1a2b" stroke-width="0.15">TCGA</text>
<text x="175" y="396.9" font-size="6.35" text-anchor="middle" font-weight="bold" fill="#0d1a2b" textLength="14.45" lengthAdjust="spacingAndGlyphs" stroke="#0d1a2b" stroke-width="0.15">p.adj</text>
<text x="201.6" y="396.9" font-size="6.35" text-anchor="middle" font-weight="bold" fill="#0d1a2b" textLength="19.27" lengthAdjust="spacingAndGlyphs" stroke="#0d1a2b" stroke-width="0.15">effsize</text>
<text x="32.6" y="408.7" font-size="6.35" text-anchor="middle" fill="#111" textLength="12.04" lengthAdjust="spacingAndGlyphs" stroke="#111" stroke-width="0.22">Skin</text>
<text x="106.5" y="408.7" font-size="6.35" text-anchor="middle" fill="#111" textLength="74.34" lengthAdjust="spacingAndGlyphs" stroke="#111" stroke-width="0.22">Skin Cutaneous Melanoma</text>
<text x="175" y="408.7" font-size="6.35" text-anchor="middle" fill="#111" textLength="27.41" lengthAdjust="spacingAndGlyphs" stroke="#111" stroke-width="0.22">4.15E-156</text>
<text x="201.5" y="408.7" font-size="6.35" text-anchor="middle" fill="#111" textLength="11.47" lengthAdjust="spacingAndGlyphs" stroke="#111" stroke-width="0.22">2.79</text>
<text x="32.6" y="420" font-size="6.35" text-anchor="middle" fill="#111" textLength="18.24" lengthAdjust="spacingAndGlyphs" stroke="#111" stroke-width="0.22">Uterus</text>
<text x="106.5" y="420" font-size="6.35" text-anchor="middle" fill="#111" textLength="87.06" lengthAdjust="spacingAndGlyphs" stroke="#111" stroke-width="0.22">Cervical &amp; Endocervical Cancer</text>
<text x="175" y="420" font-size="6.35" text-anchor="middle" fill="#111" textLength="24.16" lengthAdjust="spacingAndGlyphs" stroke="#111" stroke-width="0.22">1.58E-38</text>
<text x="201.5" y="420" font-size="6.35" text-anchor="middle" fill="#111" textLength="11.47" lengthAdjust="spacingAndGlyphs" stroke="#111" stroke-width="0.22">2.78</text>
<text x="32.6" y="431.3" font-size="6.35" text-anchor="middle" fill="#111" textLength="32.33" lengthAdjust="spacingAndGlyphs" stroke="#111" stroke-width="0.22">Cervix Uteri</text>
<text x="106.5" y="431.3" font-size="6.35" text-anchor="middle" fill="#111" textLength="87.06" lengthAdjust="spacingAndGlyphs" stroke="#111" stroke-width="0.22">Cervical &amp; Endocervical Cancer</text>
<text x="175" y="431.3" font-size="6.35" text-anchor="middle" fill="#111" textLength="24.16" lengthAdjust="spacingAndGlyphs" stroke="#111" stroke-width="0.22">2.30E-06</text>
<text x="201.5" y="431.3" font-size="6.35" text-anchor="middle" fill="#111" textLength="11.47" lengthAdjust="spacingAndGlyphs" stroke="#111" stroke-width="0.22">2.71</text>
<text x="32.6" y="442.6" font-size="6.35" text-anchor="middle" fill="#111" textLength="39.58" lengthAdjust="spacingAndGlyphs" stroke="#111" stroke-width="0.22">Adrenal Gland</text>
<text x="106.5" y="442.6" font-size="6.35" text-anchor="middle" fill="#111" textLength="101.5" lengthAdjust="spacingAndGlyphs" stroke="#111" stroke-width="0.22">Pheochromocytoma/Paraganglioma</text>
<text x="175" y="442.6" font-size="6.35" text-anchor="middle" fill="#111" textLength="24.16" lengthAdjust="spacingAndGlyphs" stroke="#111" stroke-width="0.22">8.04E-39</text>
<text x="201.5" y="442.6" font-size="6.35" text-anchor="middle" fill="#111" textLength="13.53" lengthAdjust="spacingAndGlyphs" stroke="#111" stroke-width="0.22">-2.50</text>
<text x="32.6" y="453.9" font-size="6.35" text-anchor="middle" fill="#111" textLength="13.42" lengthAdjust="spacingAndGlyphs" stroke="#111" stroke-width="0.22">Liver</text>
<text x="106.5" y="453.9" font-size="6.35" text-anchor="middle" fill="#111" textLength="86.37" lengthAdjust="spacingAndGlyphs" stroke="#111" stroke-width="0.22">Liver Hepatocellular Carcinoma</text>
<text x="175" y="453.9" font-size="6.35" text-anchor="middle" fill="#111" textLength="24.16" lengthAdjust="spacingAndGlyphs" stroke="#111" stroke-width="0.22">3.31E-37</text>
<text x="201.5" y="453.9" font-size="6.35" text-anchor="middle" fill="#111" textLength="11.47" lengthAdjust="spacingAndGlyphs" stroke="#111" stroke-width="0.22">2.08</text>
<text x="32.6" y="465.2" font-size="6.35" text-anchor="middle" fill="#111" textLength="20.64" lengthAdjust="spacingAndGlyphs" stroke="#111" stroke-width="0.22">Thyroid</text>
<text x="106.5" y="465.2" font-size="6.35" text-anchor="middle" fill="#111" textLength="52.3" lengthAdjust="spacingAndGlyphs" stroke="#111" stroke-width="0.22">Thyroid Carcinoma</text>
<text x="175" y="465.2" font-size="6.35" text-anchor="middle" fill="#111" textLength="24.16" lengthAdjust="spacingAndGlyphs" stroke="#111" stroke-width="0.22">5.52E-81</text>
<text x="201.5" y="465.2" font-size="6.35" text-anchor="middle" fill="#111" textLength="11.47" lengthAdjust="spacingAndGlyphs" stroke="#111" stroke-width="0.22">1.60</text>
<text x="32.6" y="476.5" font-size="6.35" text-anchor="middle" fill="#111" textLength="35.11" lengthAdjust="spacingAndGlyphs" stroke="#111" stroke-width="0.22">Oesophagus</text>
<text x="106.5" y="476.5" font-size="6.35" text-anchor="middle" fill="#111" textLength="68.49" lengthAdjust="spacingAndGlyphs" stroke="#111" stroke-width="0.22">Oesophageal Carcinoma</text>
<text x="175" y="476.5" font-size="6.35" text-anchor="middle" fill="#111" textLength="24.16" lengthAdjust="spacingAndGlyphs" stroke="#111" stroke-width="0.22">5.01E-52</text>
<text x="201.5" y="476.5" font-size="6.35" text-anchor="middle" fill="#111" textLength="11.47" lengthAdjust="spacingAndGlyphs" stroke="#111" stroke-width="0.22">1.50</text>
<text x="32.6" y="487.8" font-size="6.35" text-anchor="middle" fill="#111" textLength="18.24" lengthAdjust="spacingAndGlyphs" stroke="#111" stroke-width="0.22">Uterus</text>
<text x="106.5" y="487.8" font-size="6.35" text-anchor="middle" fill="#111" textLength="66.75" lengthAdjust="spacingAndGlyphs" stroke="#111" stroke-width="0.22">Uterine Carcinosarcoma</text>
<text x="175" y="487.8" font-size="6.35" text-anchor="middle" fill="#111" textLength="24.16" lengthAdjust="spacingAndGlyphs" stroke="#111" stroke-width="0.22">7.94E-08</text>
<text x="201.5" y="487.8" font-size="6.35" text-anchor="middle" fill="#111" textLength="11.47" lengthAdjust="spacingAndGlyphs" stroke="#111" stroke-width="0.22">1.48</text>
<text x="32.6" y="499.1" font-size="6.35" text-anchor="middle" fill="#111" textLength="24.43" lengthAdjust="spacingAndGlyphs" stroke="#111" stroke-width="0.22">Stomach</text>
<text x="106.5" y="499.1" font-size="6.35" text-anchor="middle" fill="#111" textLength="72.61" lengthAdjust="spacingAndGlyphs" stroke="#111" stroke-width="0.22">Stomach Adenocarcinoma</text>
<text x="175" y="499.1" font-size="6.35" text-anchor="middle" fill="#111" textLength="24.16" lengthAdjust="spacingAndGlyphs" stroke="#111" stroke-width="0.22">9.35E-47</text>
<text x="201.5" y="499.1" font-size="6.35" text-anchor="middle" fill="#111" textLength="11.47" lengthAdjust="spacingAndGlyphs" stroke="#111" stroke-width="0.22">1.48</text>
<text x="32.6" y="510.4" font-size="6.35" text-anchor="middle" fill="#111" textLength="14.45" lengthAdjust="spacingAndGlyphs" stroke="#111" stroke-width="0.22">Brain</text>
<text x="106.5" y="510.4" font-size="6.35" text-anchor="middle" fill="#111" textLength="66.75" lengthAdjust="spacingAndGlyphs" stroke="#111" stroke-width="0.22">Glioblastoma Multiforme</text>
<text x="175" y="510.4" font-size="6.35" text-anchor="middle" fill="#111" textLength="24.16" lengthAdjust="spacingAndGlyphs" stroke="#111" stroke-width="0.22">3.25E-54</text>
<text x="201.5" y="510.4" font-size="6.35" text-anchor="middle" fill="#111" textLength="11.47" lengthAdjust="spacingAndGlyphs" stroke="#111" stroke-width="0.22">1.43</text>
<text x="32.6" y="521.7" font-size="6.35" text-anchor="middle" fill="#111" textLength="32.33" lengthAdjust="spacingAndGlyphs" stroke="#111" stroke-width="0.22">Cervix Uteri</text>
<text x="106.5" y="521.7" font-size="6.35" text-anchor="middle" fill="#111" textLength="66.75" lengthAdjust="spacingAndGlyphs" stroke="#111" stroke-width="0.22">Uterine Carcinosarcoma</text>
<text x="175" y="521.7" font-size="6.35" text-anchor="middle" fill="#111" textLength="24.16" lengthAdjust="spacingAndGlyphs" stroke="#111" stroke-width="0.22">1.36E-02</text>
<text x="201.5" y="521.7" font-size="6.35" text-anchor="middle" fill="#111" textLength="11.47" lengthAdjust="spacingAndGlyphs" stroke="#111" stroke-width="0.22">1.41</text>
<text x="32.6" y="533" font-size="6.35" text-anchor="middle" fill="#111" textLength="15.83" lengthAdjust="spacingAndGlyphs" stroke="#111" stroke-width="0.22">Blood</text>
<text x="106.5" y="533" font-size="6.35" text-anchor="middle" fill="#111" textLength="87.75" lengthAdjust="spacingAndGlyphs" stroke="#111" stroke-width="0.22">Diffuse Large B-Cell Lymphoma</text>
<text x="175" y="533" font-size="6.35" text-anchor="middle" fill="#111" textLength="24.16" lengthAdjust="spacingAndGlyphs" stroke="#111" stroke-width="0.22">6.74E-13</text>
<text x="201.5" y="533" font-size="6.35" text-anchor="middle" fill="#111" textLength="13.53" lengthAdjust="spacingAndGlyphs" stroke="#111" stroke-width="0.22">-1.20</text>
<text x="32.6" y="544.3" font-size="6.35" text-anchor="middle" fill="#111" textLength="23.06" lengthAdjust="spacingAndGlyphs" stroke="#111" stroke-width="0.22">Prostate</text>
<text x="106.5" y="544.3" font-size="6.35" text-anchor="middle" fill="#111" textLength="71.24" lengthAdjust="spacingAndGlyphs" stroke="#111" stroke-width="0.22">Prostate Adenocarcinoma</text>
<text x="175" y="544.3" font-size="6.35" text-anchor="middle" fill="#111" textLength="24.16" lengthAdjust="spacingAndGlyphs" stroke="#111" stroke-width="0.22">2.01E-20</text>
<text x="201.5" y="544.3" font-size="6.35" text-anchor="middle" fill="#111" textLength="13.53" lengthAdjust="spacingAndGlyphs" stroke="#111" stroke-width="0.22">-1.10</text>
<rect x="221.2" y="388.7" width="184.6" height="11" fill="#5b9bd5"/>
<text x="242.6" y="396.9" font-size="6.35" text-anchor="middle" font-weight="bold" fill="#0d1a2b" textLength="16.17" lengthAdjust="spacingAndGlyphs" stroke="#0d1a2b" stroke-width="0.15">GTEx</text>
<text x="308.5" y="396.9" font-size="6.35" text-anchor="middle" font-weight="bold" fill="#0d1a2b" textLength="17.54" lengthAdjust="spacingAndGlyphs" stroke="#0d1a2b" stroke-width="0.15">TCGA</text>
<text x="368.6" y="396.9" font-size="6.35" text-anchor="middle" font-weight="bold" fill="#0d1a2b" textLength="14.45" lengthAdjust="spacingAndGlyphs" stroke="#0d1a2b" stroke-width="0.15">p.adj</text>
<text x="395" y="396.9" font-size="6.35" text-anchor="middle" font-weight="bold" fill="#0d1a2b" textLength="19.27" lengthAdjust="spacingAndGlyphs" stroke="#0d1a2b" stroke-width="0.15">effsize</text>
<text x="242.6" y="410.5" font-size="6.35" text-anchor="middle" fill="#111" textLength="17.54" lengthAdjust="spacingAndGlyphs" stroke="#111" stroke-width="0.22">Cervix</text>
<text x="308.5" y="410.5" font-size="6.35" text-anchor="middle" fill="#111" textLength="87.06" lengthAdjust="spacingAndGlyphs" stroke="#111" stroke-width="0.22">Cervical &amp; Endocervical Cancer</text>
<text x="368.4" y="410.5" font-size="6.35" text-anchor="middle" fill="#111" textLength="24.16" lengthAdjust="spacingAndGlyphs" stroke="#111" stroke-width="0.22">1.29E-06</text>
<text x="395" y="410.5" font-size="6.35" text-anchor="middle" fill="#111" textLength="11.47" lengthAdjust="spacingAndGlyphs" stroke="#111" stroke-width="0.22">2.11</text>
<text x="242.6" y="425.15" font-size="6.35" text-anchor="middle" fill="#111" textLength="18.24" lengthAdjust="spacingAndGlyphs" stroke="#111" stroke-width="0.22">Uterus</text>
<text x="308.5" y="425.15" font-size="6.35" text-anchor="middle" fill="#111" textLength="87.06" lengthAdjust="spacingAndGlyphs" stroke="#111" stroke-width="0.22">Cervical &amp; Endocervical Cancer</text>
<text x="368.4" y="425.15" font-size="6.35" text-anchor="middle" fill="#111" textLength="24.16" lengthAdjust="spacingAndGlyphs" stroke="#111" stroke-width="0.22">3.15E-30</text>
<text x="395" y="425.15" font-size="6.35" text-anchor="middle" fill="#111" textLength="11.47" lengthAdjust="spacingAndGlyphs" stroke="#111" stroke-width="0.22">1.88</text>
<text x="242.6" y="439.8" font-size="6.35" text-anchor="middle" fill="#111" textLength="21.34" lengthAdjust="spacingAndGlyphs" stroke="#111" stroke-width="0.22">Bladder</text>
<text x="308.5" y="439.8" font-size="6.35" text-anchor="middle" fill="#111" textLength="80.87" lengthAdjust="spacingAndGlyphs" stroke="#111" stroke-width="0.22">Bladder Urothelial Carcinoma</text>
<text x="368.4" y="439.8" font-size="6.35" text-anchor="middle" fill="#111" textLength="24.16" lengthAdjust="spacingAndGlyphs" stroke="#111" stroke-width="0.22">3.24E-05</text>
<text x="395" y="439.8" font-size="6.35" text-anchor="middle" fill="#111" textLength="11.47" lengthAdjust="spacingAndGlyphs" stroke="#111" stroke-width="0.22">1.79</text>
<text x="242.6" y="454.45" font-size="6.35" text-anchor="middle" fill="#111" textLength="32.33" lengthAdjust="spacingAndGlyphs" stroke="#111" stroke-width="0.22">Cervix Uteri</text>
<text x="308.5" y="454.45" font-size="6.35" text-anchor="middle" fill="#111" textLength="66.75" lengthAdjust="spacingAndGlyphs" stroke="#111" stroke-width="0.22">Uterine Carcinosarcoma</text>
<text x="368.4" y="454.45" font-size="6.35" text-anchor="middle" fill="#111" textLength="24.16" lengthAdjust="spacingAndGlyphs" stroke="#111" stroke-width="0.22">2.48E-04</text>
<text x="395" y="454.45" font-size="6.35" text-anchor="middle" fill="#111" textLength="11.47" lengthAdjust="spacingAndGlyphs" stroke="#111" stroke-width="0.22">1.56</text>
<text x="242.6" y="469.1" font-size="6.35" text-anchor="middle" fill="#111" textLength="39.58" lengthAdjust="spacingAndGlyphs" stroke="#111" stroke-width="0.22">Adrenal Gland</text>
<text x="308.5" y="469.1" font-size="6.35" text-anchor="middle" fill="#111" textLength="61.25" lengthAdjust="spacingAndGlyphs" stroke="#111" stroke-width="0.22">Adrenocortical Cancer</text>
<text x="368.4" y="469.1" font-size="6.35" text-anchor="middle" fill="#111" textLength="24.16" lengthAdjust="spacingAndGlyphs" stroke="#111" stroke-width="0.22">1.09E-16</text>
<text x="395" y="469.1" font-size="6.35" text-anchor="middle" fill="#111" textLength="11.47" lengthAdjust="spacingAndGlyphs" stroke="#111" stroke-width="0.22">1.44</text>
<text x="242.6" y="483.75" font-size="6.35" text-anchor="middle" fill="#111" textLength="18.24" lengthAdjust="spacingAndGlyphs" stroke="#111" stroke-width="0.22">Uterus</text>
<text x="308.5" y="483.75" font-size="6.35" text-anchor="middle" fill="#111" textLength="66.75" lengthAdjust="spacingAndGlyphs" stroke="#111" stroke-width="0.22">Uterine Carcinosarcoma</text>
<text x="368.4" y="483.75" font-size="6.35" text-anchor="middle" fill="#111" textLength="24.16" lengthAdjust="spacingAndGlyphs" stroke="#111" stroke-width="0.22">7.34E-11</text>
<text x="395" y="483.75" font-size="6.35" text-anchor="middle" fill="#111" textLength="11.47" lengthAdjust="spacingAndGlyphs" stroke="#111" stroke-width="0.22">1.36</text>
<text x="242.6" y="498.4" font-size="6.35" text-anchor="middle" fill="#111" textLength="16.51" lengthAdjust="spacingAndGlyphs" stroke="#111" stroke-width="0.22">Testis</text>
<text x="308.5" y="498.4" font-size="6.35" text-anchor="middle" fill="#111" textLength="79.47" lengthAdjust="spacingAndGlyphs" stroke="#111" stroke-width="0.22">Testicular Germ Cell Tumour</text>
<text x="368.4" y="498.4" font-size="6.35" text-anchor="middle" fill="#111" textLength="24.16" lengthAdjust="spacingAndGlyphs" stroke="#111" stroke-width="0.22">8.78E-27</text>
<text x="395" y="498.4" font-size="6.35" text-anchor="middle" fill="#111" textLength="11.47" lengthAdjust="spacingAndGlyphs" stroke="#111" stroke-width="0.22">1.34</text>
<text x="242.6" y="513.05" font-size="6.35" text-anchor="middle" fill="#111" textLength="14.45" lengthAdjust="spacingAndGlyphs" stroke="#111" stroke-width="0.22">Brain</text>
<text x="308.5" y="513.05" font-size="6.35" text-anchor="middle" fill="#111" textLength="73.29" lengthAdjust="spacingAndGlyphs" stroke="#111" stroke-width="0.22">Brain Lower Grade Glioma</text>
<text x="368.4" y="513.05" font-size="6.35" text-anchor="middle" fill="#111" textLength="27.41" lengthAdjust="spacingAndGlyphs" stroke="#111" stroke-width="0.22">1.51E-104</text>
<text x="395" y="513.05" font-size="6.35" text-anchor="middle" fill="#111" textLength="13.53" lengthAdjust="spacingAndGlyphs" stroke="#111" stroke-width="0.22">-1.29</text>
<text x="242.6" y="527.7" font-size="6.35" text-anchor="middle" fill="#111" textLength="12.04" lengthAdjust="spacingAndGlyphs" stroke="#111" stroke-width="0.22">Skin</text>
<text x="308.5" y="527.7" font-size="6.35" text-anchor="middle" fill="#111" textLength="74.34" lengthAdjust="spacingAndGlyphs" stroke="#111" stroke-width="0.22">Skin Cutaneous Melanoma</text>
<text x="368.4" y="527.7" font-size="6.35" text-anchor="middle" fill="#111" textLength="24.16" lengthAdjust="spacingAndGlyphs" stroke="#111" stroke-width="0.22">7.90E-53</text>
<text x="395" y="527.7" font-size="6.35" text-anchor="middle" fill="#111" textLength="11.47" lengthAdjust="spacingAndGlyphs" stroke="#111" stroke-width="0.22">1.06</text>
<text x="242.6" y="542.35" font-size="6.35" text-anchor="middle" fill="#111" textLength="18.93" lengthAdjust="spacingAndGlyphs" stroke="#111" stroke-width="0.22">Kidney</text>
<text x="308.5" y="542.35" font-size="6.35" text-anchor="middle" fill="#111" textLength="59.89" lengthAdjust="spacingAndGlyphs" stroke="#111" stroke-width="0.22">Kidney Chromophobe</text>
<text x="368.4" y="542.35" font-size="6.35" text-anchor="middle" fill="#111" textLength="24.16" lengthAdjust="spacingAndGlyphs" stroke="#111" stroke-width="0.22">8.74E-04</text>
<text x="395" y="542.35" font-size="6.35" text-anchor="middle" fill="#111" textLength="13.53" lengthAdjust="spacingAndGlyphs" stroke="#111" stroke-width="0.22">-0.93</text>
</svg>
</body></html>
